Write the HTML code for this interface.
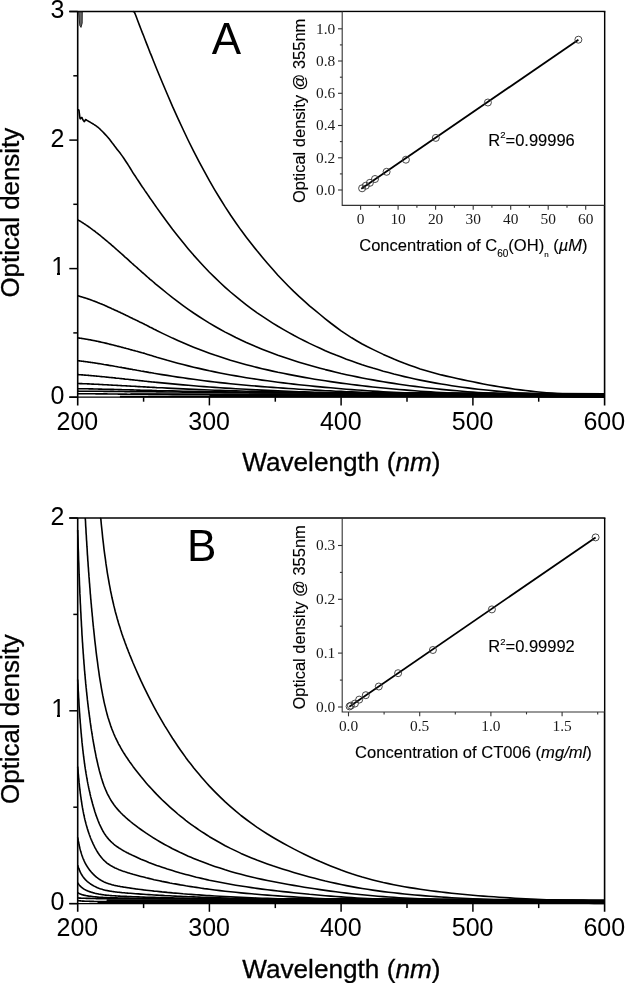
<!DOCTYPE html>
<html><head><meta charset="utf-8"><title>Figure</title>
<style>
html,body{margin:0;padding:0;background:#fff;}
svg{display:block;}
text{font-family:"Liberation Sans",sans-serif;fill:#000;}
.ti{stroke:#000;stroke-width:0.3px;}
.sm{stroke:#000;stroke-width:0.12px;}
.ser{font-family:"Liberation Serif",serif;fill:#1a1a1a;stroke:none;}
.c path{fill:none;stroke:#000;stroke-width:1.6;stroke-linejoin:round;}
.ax{stroke:#000;stroke-width:1.6;fill:none;}
.tk{stroke:#000;stroke-width:1.5;}
.iax{stroke:#333;stroke-width:1.1;fill:none;}
.pt{fill:none;stroke:#333;stroke-width:0.9;}
</style></head><body>
<svg width="625" height="983" viewBox="0 0 625 983">
<rect width="625" height="983" fill="#fff"/>

<g class="c">
<path d="M133.0,11.5 L134.3,11.9 L135.7,15.3 L137.0,18.8 L138.3,22.2 L139.6,25.6 L140.9,29.0 L142.2,32.4 L143.6,35.8 L144.9,39.2 L146.2,42.6 L147.5,45.9 L148.8,49.3 L150.1,52.6 L151.5,55.9 L152.8,59.2 L154.1,62.5 L155.4,65.7 L156.7,69.0 L162.0,81.8 L167.3,94.2 L172.5,106.4 L177.8,118.1 L183.1,129.5 L188.3,140.5 L193.6,151.1 L198.9,161.4 L204.2,171.2 L209.4,180.7 L214.7,189.8 L220.0,198.5 L225.2,206.9 L230.5,215.0 L235.8,222.7 L241.0,230.1 L246.3,237.2 L251.6,244.1 L256.8,250.6 L262.1,256.9 L267.4,263.3 L272.7,269.3 L277.9,275.2 L283.2,280.8 L288.5,286.2 L293.7,291.4 L299.0,296.4 L304.3,301.1 L309.5,305.8 L314.8,310.2 L320.1,314.5 L325.3,318.8 L330.6,323.0 L335.9,327.0 L341.1,330.9 L346.4,334.4 L351.7,337.8 L357.0,341.0 L362.2,344.0 L367.5,346.8 L372.8,349.4 L378.0,351.9 L383.3,354.4 L388.6,356.7 L393.8,359.0 L399.1,361.2 L404.4,363.3 L409.6,365.2 L414.9,367.1 L420.2,368.9 L425.5,370.5 L430.7,372.0 L436.0,373.5 L441.3,374.9 L446.5,376.1 L451.8,377.3 L457.1,378.5 L462.3,379.6 L467.6,380.7 L472.9,381.8 L478.1,382.9 L483.4,384.0 L488.7,385.0 L494.0,385.9 L499.2,386.8 L504.5,387.6 L509.8,388.4 L515.0,389.2 L520.3,389.9 L525.6,390.5 L530.8,391.1 L536.1,391.7 L541.4,392.2 L546.6,392.7 L551.9,393.1 L557.2,393.5 L562.4,393.9 L567.7,394.3 L573.0,394.6 L578.3,394.9 L583.5,395.1 L588.8,395.4 L594.1,395.6 L599.3,395.8 L604.6,396.0"/>
<path d="M77.7,110.5 L78.0,110.0 L78.4,109.8 L78.7,109.8 L79.0,110.6 L79.3,113.1 L79.7,116.1 L80.0,118.3 L80.3,118.8 L80.7,118.5 L81.0,118.1 L81.3,117.7 L81.7,117.5 L82.0,117.7 L82.3,118.3 L82.6,119.1 L83.0,119.8 L83.3,120.4 L83.6,120.9 L84.0,121.3 L84.3,121.6 L84.6,121.5 L84.9,120.8 L85.3,120.0 L85.6,119.6 L85.9,119.7 L86.3,119.8 L86.6,120.1 L86.9,120.3 L87.3,120.6 L87.6,120.7 L87.9,120.9 L88.2,121.1 L88.6,121.3 L88.9,121.5 L89.2,121.6 L89.6,121.8 L89.9,122.0 L90.2,122.2 L90.5,122.4 L90.9,122.6 L91.2,122.8 L91.5,123.0 L91.9,123.2 L92.2,123.4 L92.5,123.6 L92.8,123.8 L93.2,124.0 L93.5,124.2 L93.8,124.4 L94.2,124.6 L94.5,124.8 L94.8,125.1 L95.2,125.3 L95.5,125.5 L95.8,125.7 L96.1,125.9 L96.5,126.2 L96.8,126.4 L97.1,126.7 L97.5,126.9 L98.8,128.0 L100.1,129.2 L101.4,130.5 L102.7,131.8 L104.0,133.1 L105.4,134.6 L106.7,136.0 L108.0,137.5 L109.3,139.1 L110.6,140.8 L111.9,142.5 L113.3,144.2 L114.6,146.0 L115.9,147.7 L117.2,149.4 L118.5,151.1 L119.9,152.8 L121.2,154.6 L122.5,156.4 L123.8,158.3 L125.1,160.2 L126.4,162.2 L127.8,164.3 L129.1,166.4 L130.4,168.5 L131.7,170.7 L133.0,172.8 L134.3,174.8 L135.7,176.8 L137.0,178.9 L138.3,180.8 L139.6,182.8 L140.9,184.8 L142.2,186.7 L143.6,188.6 L144.9,190.6 L146.2,192.5 L147.5,194.4 L148.8,196.3 L150.1,198.2 L151.5,200.1 L152.8,202.0 L154.1,203.9 L155.4,205.8 L156.7,207.6 L162.0,215.0 L167.3,222.2 L172.5,229.2 L177.8,236.0 L183.1,242.6 L188.3,248.9 L193.6,255.1 L198.9,261.0 L204.2,266.7 L209.4,272.2 L214.7,277.4 L220.0,282.5 L225.2,287.3 L230.5,292.0 L235.8,296.4 L241.0,300.7 L246.3,304.8 L251.6,308.8 L256.8,312.6 L262.1,316.2 L267.4,319.7 L272.7,323.1 L277.9,326.3 L283.2,329.4 L288.5,332.4 L293.7,335.3 L299.0,338.1 L304.3,340.8 L309.5,343.4 L314.8,345.9 L320.1,348.3 L325.3,350.7 L330.6,352.9 L335.9,355.1 L341.1,357.1 L346.4,359.2 L351.7,361.1 L357.0,362.9 L362.2,364.7 L367.5,366.4 L372.8,368.1 L378.0,369.6 L383.3,371.2 L388.6,372.6 L393.8,374.0 L399.1,375.3 L404.4,376.6 L409.6,377.8 L414.9,379.0 L420.2,380.1 L425.5,381.1 L430.7,382.1 L436.0,383.1 L441.3,384.0 L446.5,384.8 L451.8,385.7 L457.1,386.5 L462.3,387.2 L467.6,387.9 L472.9,388.6 L478.1,389.2 L483.4,389.8 L488.7,390.3 L494.0,390.9 L499.2,391.4 L504.5,391.8 L509.8,392.3 L515.0,392.7 L520.3,393.1 L525.6,393.4 L530.8,393.8 L536.1,394.1 L541.4,394.4 L546.6,394.6 L551.9,394.9 L557.2,395.1 L562.4,395.3 L567.7,395.5 L573.0,395.7 L578.3,395.9 L583.5,396.0 L588.8,396.2 L594.1,396.3 L599.3,396.4 L604.6,396.5"/>
<path d="M77.7,219.8 L78.0,220.0 L78.4,220.2 L78.7,220.4 L79.0,220.6 L79.3,220.8 L79.7,220.9 L80.0,221.1 L80.3,221.3 L80.7,221.5 L81.0,221.7 L81.3,221.9 L81.7,222.1 L82.0,222.3 L82.3,222.5 L82.6,222.8 L83.0,223.0 L83.3,223.2 L83.6,223.4 L84.0,223.6 L84.3,223.8 L84.6,224.0 L84.9,224.2 L85.3,224.5 L85.6,224.7 L85.9,224.9 L86.3,225.1 L86.6,225.3 L86.9,225.6 L87.3,225.8 L87.6,226.0 L87.9,226.2 L88.2,226.5 L88.6,226.7 L88.9,226.9 L89.2,227.2 L89.6,227.4 L89.9,227.6 L90.2,227.9 L90.5,228.1 L90.9,228.4 L91.2,228.6 L91.5,228.8 L91.9,229.1 L92.2,229.3 L92.5,229.6 L92.8,229.8 L93.2,230.1 L93.5,230.3 L93.8,230.5 L94.2,230.8 L94.5,231.0 L94.8,231.3 L95.2,231.5 L95.5,231.8 L95.8,232.1 L96.1,232.3 L96.5,232.6 L96.8,232.8 L97.1,233.1 L97.5,233.3 L98.8,234.4 L100.1,235.4 L101.4,236.5 L102.7,237.6 L104.0,238.7 L105.4,239.8 L106.7,240.9 L108.0,242.0 L109.3,243.1 L110.6,244.2 L111.9,245.4 L113.3,246.5 L114.6,247.7 L115.9,248.8 L117.2,250.0 L118.5,251.2 L119.9,252.3 L121.2,253.5 L122.5,254.7 L123.8,255.9 L125.1,257.1 L126.4,258.2 L127.8,259.4 L129.1,260.6 L130.4,261.8 L131.7,263.0 L133.0,264.1 L134.3,265.3 L135.7,266.5 L137.0,267.7 L138.3,268.9 L139.6,270.0 L140.9,271.2 L142.2,272.4 L143.6,273.5 L144.9,274.7 L146.2,275.8 L147.5,277.0 L148.8,278.1 L150.1,279.3 L151.5,280.4 L152.8,281.5 L154.1,282.6 L155.4,283.8 L156.7,284.9 L162.0,289.2 L167.3,293.5 L172.5,297.7 L177.8,301.7 L183.1,305.6 L188.3,309.3 L193.6,313.0 L198.9,316.5 L204.2,319.9 L209.4,323.1 L214.7,326.2 L220.0,329.2 L225.2,332.1 L230.5,334.8 L235.8,337.5 L241.0,340.0 L246.3,342.5 L251.6,344.8 L256.8,347.0 L262.1,349.2 L267.4,351.3 L272.7,353.3 L277.9,355.2 L283.2,357.0 L288.5,358.8 L293.7,360.5 L299.0,362.2 L304.3,363.8 L309.5,365.3 L314.8,366.8 L320.1,368.2 L325.3,369.6 L330.6,370.9 L335.9,372.2 L341.1,373.5 L346.4,374.7 L351.7,375.8 L357.0,376.9 L362.2,378.0 L367.5,379.0 L372.8,379.9 L378.0,380.9 L383.3,381.8 L388.6,382.6 L393.8,383.4 L399.1,384.2 L404.4,385.0 L409.6,385.7 L414.9,386.4 L420.2,387.0 L425.5,387.7 L430.7,388.3 L436.0,388.8 L441.3,389.4 L446.5,389.9 L451.8,390.4 L457.1,390.8 L462.3,391.3 L467.6,391.7 L472.9,392.1 L478.1,392.5 L483.4,392.8 L488.7,393.1 L494.0,393.4 L499.2,393.7 L504.5,394.0 L509.8,394.3 L515.0,394.5 L520.3,394.8 L525.6,395.0 L530.8,395.2 L536.1,395.3 L541.4,395.5 L546.6,395.7 L551.9,395.8 L557.2,396.0 L562.4,396.1 L567.7,396.2 L573.0,396.3 L578.3,396.4 L583.5,396.5 L588.8,396.6 L594.1,396.7 L599.3,396.7 L604.6,396.8"/>
<path d="M77.7,295.8 L78.0,295.8 L78.4,295.9 L78.7,296.0 L79.0,296.1 L79.3,296.2 L79.7,296.3 L80.0,296.4 L80.3,296.5 L80.7,296.6 L81.0,296.7 L81.3,296.8 L81.7,296.9 L82.0,297.0 L82.3,297.1 L82.6,297.2 L83.0,297.3 L83.3,297.4 L83.6,297.5 L84.0,297.6 L84.3,297.7 L84.6,297.8 L84.9,297.9 L85.3,298.0 L85.6,298.1 L85.9,298.2 L86.3,298.3 L86.6,298.4 L86.9,298.5 L87.3,298.6 L87.6,298.7 L87.9,298.9 L88.2,299.0 L88.6,299.1 L88.9,299.2 L89.2,299.3 L89.6,299.4 L89.9,299.5 L90.2,299.7 L90.5,299.8 L90.9,299.9 L91.2,300.0 L91.5,300.1 L91.9,300.3 L92.2,300.4 L92.5,300.5 L92.8,300.6 L93.2,300.8 L93.5,300.9 L93.8,301.0 L94.2,301.1 L94.5,301.3 L94.8,301.4 L95.2,301.5 L95.5,301.6 L95.8,301.8 L96.1,301.9 L96.5,302.0 L96.8,302.2 L97.1,302.3 L97.5,302.4 L98.8,302.9 L100.1,303.5 L101.4,304.0 L102.7,304.6 L104.0,305.1 L105.4,305.7 L106.7,306.3 L108.0,306.9 L109.3,307.5 L110.6,308.1 L111.9,308.7 L113.3,309.3 L114.6,309.9 L115.9,310.5 L117.2,311.1 L118.5,311.7 L119.9,312.3 L121.2,313.0 L122.5,313.6 L123.8,314.2 L125.1,314.8 L126.4,315.5 L127.8,316.1 L129.1,316.8 L130.4,317.4 L131.7,318.0 L133.0,318.7 L134.3,319.3 L135.7,319.9 L137.0,320.6 L138.3,321.2 L139.6,321.9 L140.9,322.5 L142.2,323.1 L143.6,323.8 L144.9,324.5 L146.2,325.1 L147.5,325.8 L148.8,326.5 L150.1,327.2 L151.5,327.8 L152.8,328.5 L154.1,329.2 L155.4,329.8 L156.7,330.5 L162.0,333.1 L167.3,335.6 L172.5,338.1 L177.8,340.5 L183.1,342.8 L188.3,345.0 L193.6,347.2 L198.9,349.3 L204.2,351.3 L209.4,353.2 L214.7,355.1 L220.0,356.8 L225.2,358.5 L230.5,360.2 L235.8,361.7 L241.0,363.2 L246.3,364.7 L251.6,366.1 L256.8,367.4 L262.1,368.7 L267.4,369.9 L272.7,371.1 L277.9,372.3 L283.2,373.3 L288.5,374.4 L293.7,375.4 L299.0,376.4 L304.3,377.4 L309.5,378.3 L314.8,379.2 L320.1,380.0 L325.3,380.8 L330.6,381.6 L335.9,382.4 L341.1,383.1 L346.4,383.8 L351.7,384.5 L357.0,385.1 L362.2,385.8 L367.5,386.4 L372.8,387.0 L378.0,387.5 L383.3,388.0 L388.6,388.5 L393.8,389.0 L399.1,389.5 L404.4,389.9 L409.6,390.4 L414.9,390.8 L420.2,391.2 L425.5,391.5 L430.7,391.9 L436.0,392.2 L441.3,392.5 L446.5,392.9 L451.8,393.1 L457.1,393.4 L462.3,393.7 L467.6,393.9 L472.9,394.2 L478.1,394.4 L483.4,394.6 L488.7,394.8 L494.0,395.0 L499.2,395.1 L504.5,395.3 L509.8,395.5 L515.0,395.6 L520.3,395.7 L525.6,395.9 L530.8,396.0 L536.1,396.1 L541.4,396.2 L546.6,396.3 L551.9,396.4 L557.2,396.5 L562.4,396.5 L567.7,396.6 L573.0,396.7 L578.3,396.7 L583.5,396.8 L588.8,396.8 L594.1,396.9 L599.3,396.9 L604.6,397.0"/>
<path d="M77.7,337.9 L78.0,337.9 L78.4,338.0 L78.7,338.0 L79.0,338.1 L79.3,338.1 L79.7,338.1 L80.0,338.2 L80.3,338.2 L80.7,338.3 L81.0,338.3 L81.3,338.4 L81.7,338.4 L82.0,338.5 L82.3,338.5 L82.6,338.6 L83.0,338.6 L83.3,338.7 L83.6,338.7 L84.0,338.8 L84.3,338.8 L84.6,338.9 L84.9,339.0 L85.3,339.0 L85.6,339.1 L85.9,339.1 L86.3,339.2 L86.6,339.2 L86.9,339.3 L87.3,339.3 L87.6,339.4 L87.9,339.5 L88.2,339.5 L88.6,339.6 L88.9,339.6 L89.2,339.7 L89.6,339.8 L89.9,339.8 L90.2,339.9 L90.5,339.9 L90.9,340.0 L91.2,340.1 L91.5,340.1 L91.9,340.2 L92.2,340.3 L92.5,340.3 L92.8,340.4 L93.2,340.5 L93.5,340.5 L93.8,340.6 L94.2,340.6 L94.5,340.7 L94.8,340.8 L95.2,340.8 L95.5,340.9 L95.8,341.0 L96.1,341.1 L96.5,341.1 L96.8,341.2 L97.1,341.3 L97.5,341.3 L98.8,341.6 L100.1,341.9 L101.4,342.2 L102.7,342.5 L104.0,342.8 L105.4,343.1 L106.7,343.4 L108.0,343.7 L109.3,344.1 L110.6,344.4 L111.9,344.7 L113.3,345.0 L114.6,345.4 L115.9,345.7 L117.2,346.1 L118.5,346.4 L119.9,346.7 L121.2,347.1 L122.5,347.4 L123.8,347.8 L125.1,348.1 L126.4,348.5 L127.8,348.8 L129.1,349.2 L130.4,349.6 L131.7,349.9 L133.0,350.3 L134.3,350.6 L135.7,351.0 L137.0,351.3 L138.3,351.7 L139.6,352.1 L140.9,352.4 L142.2,352.8 L143.6,353.1 L144.9,353.6 L146.2,354.0 L147.5,354.4 L148.8,354.8 L150.1,355.2 L151.5,355.6 L152.8,356.0 L154.1,356.4 L155.4,356.8 L156.7,357.2 L162.0,358.7 L167.3,360.3 L172.5,361.7 L177.8,363.2 L183.1,364.6 L188.3,365.9 L193.6,367.2 L198.9,368.4 L204.2,369.6 L209.4,370.8 L214.7,371.9 L220.0,373.0 L225.2,374.0 L230.5,375.0 L235.8,375.9 L241.0,376.8 L246.3,377.7 L251.6,378.5 L256.8,379.3 L262.1,380.1 L267.4,380.8 L272.7,381.5 L277.9,382.2 L283.2,382.9 L288.5,383.5 L293.7,384.1 L299.0,384.7 L304.3,385.3 L309.5,385.8 L314.8,386.4 L320.1,386.9 L325.3,387.4 L330.6,387.8 L335.9,388.3 L341.1,388.7 L346.4,389.2 L351.7,389.6 L357.0,390.0 L362.2,390.3 L367.5,390.7 L372.8,391.1 L378.0,391.4 L383.3,391.7 L388.6,392.0 L393.8,392.3 L399.1,392.6 L404.4,392.8 L409.6,393.1 L414.9,393.3 L420.2,393.6 L425.5,393.8 L430.7,394.0 L436.0,394.2 L441.3,394.4 L446.5,394.6 L451.8,394.8 L457.1,394.9 L462.3,395.1 L467.6,395.2 L472.9,395.4 L478.1,395.5 L483.4,395.6 L488.7,395.8 L494.0,395.9 L499.2,396.0 L504.5,396.1 L509.8,396.2 L515.0,396.2 L520.3,396.3 L525.6,396.4 L530.8,396.5 L536.1,396.5 L541.4,396.6 L546.6,396.7 L551.9,396.7 L557.2,396.8 L562.4,396.8 L567.7,396.8 L573.0,396.9 L578.3,396.9 L583.5,397.0 L588.8,397.0 L594.1,397.0 L599.3,397.0 L604.6,397.1"/>
<path d="M77.7,360.7 L78.0,360.7 L78.4,360.8 L78.7,360.8 L79.0,360.8 L79.3,360.9 L79.7,360.9 L80.0,361.0 L80.3,361.0 L80.7,361.0 L81.0,361.1 L81.3,361.1 L81.7,361.2 L82.0,361.2 L82.3,361.2 L82.6,361.3 L83.0,361.3 L83.3,361.4 L83.6,361.4 L84.0,361.5 L84.3,361.5 L84.6,361.5 L84.9,361.6 L85.3,361.6 L85.6,361.7 L85.9,361.7 L86.3,361.8 L86.6,361.8 L86.9,361.8 L87.3,361.9 L87.6,361.9 L87.9,362.0 L88.2,362.0 L88.6,362.1 L88.9,362.1 L89.2,362.2 L89.6,362.2 L89.9,362.3 L90.2,362.3 L90.5,362.4 L90.9,362.4 L91.2,362.5 L91.5,362.5 L91.9,362.5 L92.2,362.6 L92.5,362.6 L92.8,362.7 L93.2,362.7 L93.5,362.8 L93.8,362.8 L94.2,362.9 L94.5,362.9 L94.8,363.0 L95.2,363.0 L95.5,363.1 L95.8,363.1 L96.1,363.2 L96.5,363.2 L96.8,363.3 L97.1,363.3 L97.5,363.4 L98.8,363.6 L100.1,363.8 L101.4,364.0 L102.7,364.2 L104.0,364.5 L105.4,364.7 L106.7,364.9 L108.0,365.1 L109.3,365.4 L110.6,365.6 L111.9,365.8 L113.3,366.0 L114.6,366.3 L115.9,366.5 L117.2,366.7 L118.5,367.0 L119.9,367.2 L121.2,367.4 L122.5,367.7 L123.8,367.9 L125.1,368.1 L126.4,368.4 L127.8,368.6 L129.1,368.9 L130.4,369.1 L131.7,369.3 L133.0,369.6 L134.3,369.8 L135.7,370.0 L137.0,370.3 L138.3,370.5 L139.6,370.7 L140.9,371.0 L142.2,371.2 L143.6,371.4 L144.9,371.7 L146.2,371.9 L147.5,372.1 L148.8,372.4 L150.1,372.6 L151.5,372.8 L152.8,373.0 L154.1,373.3 L155.4,373.5 L156.7,373.7 L162.0,374.6 L167.3,375.4 L172.5,376.3 L177.8,377.1 L183.1,377.8 L188.3,378.6 L193.6,379.3 L198.9,380.0 L204.2,380.7 L209.4,381.4 L214.7,382.0 L220.0,382.6 L225.2,383.1 L230.5,383.7 L235.8,384.2 L241.0,384.7 L246.3,385.2 L251.6,385.7 L256.8,386.1 L262.1,386.6 L267.4,387.0 L272.7,387.4 L277.9,387.8 L283.2,388.1 L288.5,388.5 L293.7,388.8 L299.0,389.2 L304.3,389.5 L309.5,389.8 L314.8,390.1 L320.1,390.4 L325.3,390.7 L330.6,390.9 L335.9,391.2 L341.1,391.4 L346.4,391.7 L351.7,391.9 L357.0,392.1 L362.2,392.3 L367.5,392.5 L372.8,392.7 L378.0,392.9 L383.3,393.1 L388.6,393.3 L393.8,393.4 L399.1,393.6 L404.4,393.7 L409.6,393.9 L414.9,394.0 L420.2,394.2 L425.5,394.3 L430.7,394.4 L436.0,394.5 L441.3,394.6 L446.5,394.8 L451.8,394.9 L457.1,395.0 L462.3,395.0 L467.6,395.1 L472.9,395.2 L478.1,395.3 L483.4,395.4 L488.7,395.5 L494.0,395.5 L499.2,395.6 L504.5,395.6 L509.8,395.7 L515.0,395.8 L520.3,395.8 L525.6,395.9 L530.8,395.9 L536.1,395.9 L541.4,396.0 L546.6,396.0 L551.9,396.1 L557.2,396.1 L562.4,396.1 L567.7,396.2 L573.0,396.2 L578.3,396.2 L583.5,396.2 L588.8,396.3 L594.1,396.3 L599.3,396.3 L604.6,396.3"/>
<path d="M77.7,374.6 L78.0,374.6 L78.4,374.6 L78.7,374.6 L79.0,374.7 L79.3,374.7 L79.7,374.7 L80.0,374.7 L80.3,374.8 L80.7,374.8 L81.0,374.8 L81.3,374.8 L81.7,374.9 L82.0,374.9 L82.3,374.9 L82.6,374.9 L83.0,375.0 L83.3,375.0 L83.6,375.0 L84.0,375.0 L84.3,375.1 L84.6,375.1 L84.9,375.1 L85.3,375.1 L85.6,375.2 L85.9,375.2 L86.3,375.2 L86.6,375.2 L86.9,375.3 L87.3,375.3 L87.6,375.3 L87.9,375.3 L88.2,375.4 L88.6,375.4 L88.9,375.4 L89.2,375.5 L89.6,375.5 L89.9,375.5 L90.2,375.5 L90.5,375.6 L90.9,375.6 L91.2,375.6 L91.5,375.7 L91.9,375.7 L92.2,375.7 L92.5,375.7 L92.8,375.8 L93.2,375.8 L93.5,375.8 L93.8,375.9 L94.2,375.9 L94.5,375.9 L94.8,376.0 L95.2,376.0 L95.5,376.0 L95.8,376.0 L96.1,376.1 L96.5,376.1 L96.8,376.1 L97.1,376.2 L97.5,376.2 L98.8,376.3 L100.1,376.5 L101.4,376.6 L102.7,376.7 L104.0,376.8 L105.4,377.0 L106.7,377.1 L108.0,377.2 L109.3,377.4 L110.6,377.5 L111.9,377.6 L113.3,377.8 L114.6,377.9 L115.9,378.1 L117.2,378.2 L118.5,378.3 L119.9,378.5 L121.2,378.6 L122.5,378.8 L123.8,378.9 L125.1,379.1 L126.4,379.2 L127.8,379.3 L129.1,379.5 L130.4,379.6 L131.7,379.8 L133.0,379.9 L134.3,380.0 L135.7,380.2 L137.0,380.3 L138.3,380.5 L139.6,380.6 L140.9,380.8 L142.2,380.9 L143.6,381.0 L144.9,381.2 L146.2,381.3 L147.5,381.5 L148.8,381.6 L150.1,381.7 L151.5,381.9 L152.8,382.0 L154.1,382.1 L155.4,382.3 L156.7,382.4 L162.0,382.9 L167.3,383.4 L172.5,383.9 L177.8,384.4 L183.1,384.9 L188.3,385.3 L193.6,385.8 L198.9,386.2 L204.2,386.6 L209.4,387.0 L214.7,387.4 L220.0,387.7 L225.2,388.1 L230.5,388.4 L235.8,388.7 L241.0,389.0 L246.3,389.3 L251.6,389.6 L256.8,389.9 L262.1,390.1 L267.4,390.4 L272.7,390.6 L277.9,390.9 L283.2,391.1 L288.5,391.3 L293.7,391.5 L299.0,391.7 L304.3,391.9 L309.5,392.1 L314.8,392.3 L320.1,392.4 L325.3,392.6 L330.6,392.8 L335.9,392.9 L341.1,393.1 L346.4,393.2 L351.7,393.3 L357.0,393.5 L362.2,393.6 L367.5,393.7 L372.8,393.8 L378.0,393.9 L383.3,394.1 L388.6,394.2 L393.8,394.3 L399.1,394.4 L404.4,394.4 L409.6,394.5 L414.9,394.6 L420.2,394.7 L425.5,394.8 L430.7,394.9 L436.0,394.9 L441.3,395.0 L446.5,395.1 L451.8,395.2 L457.1,395.2 L462.3,395.3 L467.6,395.3 L472.9,395.4 L478.1,395.4 L483.4,395.5 L488.7,395.5 L494.0,395.6 L499.2,395.6 L504.5,395.7 L509.8,395.7 L515.0,395.7 L520.3,395.8 L525.6,395.8 L530.8,395.8 L536.1,395.9 L541.4,395.9 L546.6,395.9 L551.9,396.0 L557.2,396.0 L562.4,396.0 L567.7,396.0 L573.0,396.0 L578.3,396.1 L583.5,396.1 L588.8,396.1 L594.1,396.1 L599.3,396.1 L604.6,396.1"/>
<path d="M77.7,383.5 L78.0,383.5 L78.4,383.5 L78.7,383.5 L79.0,383.5 L79.3,383.5 L79.7,383.6 L80.0,383.6 L80.3,383.6 L80.7,383.6 L81.0,383.6 L81.3,383.6 L81.7,383.6 L82.0,383.6 L82.3,383.7 L82.6,383.7 L83.0,383.7 L83.3,383.7 L83.6,383.7 L84.0,383.7 L84.3,383.7 L84.6,383.8 L84.9,383.8 L85.3,383.8 L85.6,383.8 L85.9,383.8 L86.3,383.8 L86.6,383.8 L86.9,383.8 L87.3,383.9 L87.6,383.9 L87.9,383.9 L88.2,383.9 L88.6,383.9 L88.9,383.9 L89.2,383.9 L89.6,384.0 L89.9,384.0 L90.2,384.0 L90.5,384.0 L90.9,384.0 L91.2,384.0 L91.5,384.1 L91.9,384.1 L92.2,384.1 L92.5,384.1 L92.8,384.1 L93.2,384.1 L93.5,384.1 L93.8,384.2 L94.2,384.2 L94.5,384.2 L94.8,384.2 L95.2,384.2 L95.5,384.2 L95.8,384.3 L96.1,384.3 L96.5,384.3 L96.8,384.3 L97.1,384.3 L97.5,384.3 L98.8,384.4 L100.1,384.5 L101.4,384.5 L102.7,384.6 L104.0,384.7 L105.4,384.7 L106.7,384.8 L108.0,384.9 L109.3,385.0 L110.6,385.0 L111.9,385.1 L113.3,385.2 L114.6,385.2 L115.9,385.3 L117.2,385.4 L118.5,385.5 L119.9,385.5 L121.2,385.6 L122.5,385.7 L123.8,385.8 L125.1,385.8 L126.4,385.9 L127.8,386.0 L129.1,386.0 L130.4,386.1 L131.7,386.2 L133.0,386.3 L134.3,386.3 L135.7,386.4 L137.0,386.5 L138.3,386.6 L139.6,386.6 L140.9,386.7 L142.2,386.8 L143.6,386.9 L144.9,386.9 L146.2,387.0 L147.5,387.1 L148.8,387.1 L150.1,387.2 L151.5,387.3 L152.8,387.4 L154.1,387.4 L155.4,387.5 L156.7,387.6 L162.0,387.8 L167.3,388.1 L172.5,388.4 L177.8,388.6 L183.1,388.9 L188.3,389.1 L193.6,389.3 L198.9,389.6 L204.2,389.8 L209.4,390.0 L214.7,390.2 L220.0,390.4 L225.2,390.5 L230.5,390.7 L235.8,390.9 L241.0,391.0 L246.3,391.2 L251.6,391.3 L256.8,391.5 L262.1,391.6 L267.4,391.7 L272.7,391.9 L277.9,392.0 L283.2,392.1 L288.5,392.2 L293.7,392.3 L299.0,392.4 L304.3,392.5 L309.5,392.6 L314.8,392.7 L320.1,392.8 L325.3,392.9 L330.6,393.0 L335.9,393.1 L341.1,393.1 L346.4,393.2 L351.7,393.3 L357.0,393.4 L362.2,393.4 L367.5,393.5 L372.8,393.5 L378.0,393.6 L383.3,393.7 L388.6,393.7 L393.8,393.8 L399.1,393.8 L404.4,393.9 L409.6,393.9 L414.9,394.0 L420.2,394.0 L425.5,394.1 L430.7,394.1 L436.0,394.2 L441.3,394.2 L446.5,394.3 L451.8,394.3 L457.1,394.4 L462.3,394.4 L467.6,394.5 L472.9,394.5 L478.1,394.5 L483.4,394.6 L488.7,394.6 L494.0,394.6 L499.2,394.7 L504.5,394.7 L509.8,394.7 L515.0,394.8 L520.3,394.8 L525.6,394.8 L530.8,394.9 L536.1,394.9 L541.4,394.9 L546.6,394.9 L551.9,395.0 L557.2,395.0 L562.4,395.0 L567.7,395.0 L573.0,395.0 L578.3,395.1 L583.5,395.1 L588.8,395.1 L594.1,395.1 L599.3,395.1 L604.6,395.2"/>
<path d="M77.7,388.6 L78.0,388.7 L78.4,388.7 L78.7,388.7 L79.0,388.7 L79.3,388.7 L79.7,388.7 L80.0,388.7 L80.3,388.7 L80.7,388.7 L81.0,388.7 L81.3,388.7 L81.7,388.7 L82.0,388.7 L82.3,388.7 L82.6,388.7 L83.0,388.7 L83.3,388.7 L83.6,388.8 L84.0,388.8 L84.3,388.8 L84.6,388.8 L84.9,388.8 L85.3,388.8 L85.6,388.8 L85.9,388.8 L86.3,388.8 L86.6,388.8 L86.9,388.8 L87.3,388.8 L87.6,388.8 L87.9,388.8 L88.2,388.8 L88.6,388.8 L88.9,388.9 L89.2,388.9 L89.6,388.9 L89.9,388.9 L90.2,388.9 L90.5,388.9 L90.9,388.9 L91.2,388.9 L91.5,388.9 L91.9,388.9 L92.2,388.9 L92.5,388.9 L92.8,388.9 L93.2,388.9 L93.5,389.0 L93.8,389.0 L94.2,389.0 L94.5,389.0 L94.8,389.0 L95.2,389.0 L95.5,389.0 L95.8,389.0 L96.1,389.0 L96.5,389.0 L96.8,389.0 L97.1,389.0 L97.5,389.0 L98.8,389.1 L100.1,389.1 L101.4,389.1 L102.7,389.2 L104.0,389.2 L105.4,389.2 L106.7,389.3 L108.0,389.3 L109.3,389.3 L110.6,389.4 L111.9,389.4 L113.3,389.4 L114.6,389.5 L115.9,389.5 L117.2,389.5 L118.5,389.6 L119.9,389.6 L121.2,389.6 L122.5,389.7 L123.8,389.7 L125.1,389.7 L126.4,389.8 L127.8,389.8 L129.1,389.8 L130.4,389.9 L131.7,389.9 L133.0,389.9 L134.3,390.0 L135.7,390.0 L137.0,390.1 L138.3,390.1 L139.6,390.1 L140.9,390.2 L142.2,390.2 L143.6,390.2 L144.9,390.3 L146.2,390.3 L147.5,390.3 L148.8,390.4 L150.1,390.4 L151.5,390.4 L152.8,390.5 L154.1,390.5 L155.4,390.5 L156.7,390.6 L162.0,390.7 L167.3,390.8 L172.5,390.9 L177.8,391.1 L183.1,391.2 L188.3,391.3 L193.6,391.4 L198.9,391.5 L204.2,391.6 L209.4,391.7 L214.7,391.8 L220.0,391.9 L225.2,391.9 L230.5,392.0 L235.8,392.1 L241.0,392.2 L246.3,392.2 L251.6,392.3 L256.8,392.4 L262.1,392.4 L267.4,392.5 L272.7,392.6 L277.9,392.6 L283.2,392.7 L288.5,392.7 L293.7,392.8 L299.0,392.8 L304.3,392.9 L309.5,392.9 L314.8,393.0 L320.1,393.0 L325.3,393.0 L330.6,393.1 L335.9,393.1 L341.1,393.2 L346.4,393.2 L351.7,393.2 L357.0,393.3 L362.2,393.3 L367.5,393.3 L372.8,393.4 L378.0,393.4 L383.3,393.4 L388.6,393.4 L393.8,393.5 L399.1,393.5 L404.4,393.5 L409.6,393.5 L414.9,393.6 L420.2,393.6 L425.5,393.6 L430.7,393.7 L436.0,393.7 L441.3,393.8 L446.5,393.8 L451.8,393.8 L457.1,393.9 L462.3,393.9 L467.6,393.9 L472.9,394.0 L478.1,394.0 L483.4,394.0 L488.7,394.0 L494.0,394.1 L499.2,394.1 L504.5,394.1 L509.8,394.2 L515.0,394.2 L520.3,394.2 L525.6,394.2 L530.8,394.3 L536.1,394.3 L541.4,394.3 L546.6,394.3 L551.9,394.4 L557.2,394.4 L562.4,394.4 L567.7,394.4 L573.0,394.4 L578.3,394.5 L583.5,394.5 L588.8,394.5 L594.1,394.5 L599.3,394.6 L604.6,394.6"/>
<path d="M77.7,391.1 L78.0,391.1 L78.4,391.1 L78.7,391.2 L79.0,391.2 L79.3,391.2 L79.7,391.2 L80.0,391.2 L80.3,391.2 L80.7,391.2 L81.0,391.2 L81.3,391.2 L81.7,391.2 L82.0,391.2 L82.3,391.2 L82.6,391.2 L83.0,391.2 L83.3,391.2 L83.6,391.2 L84.0,391.2 L84.3,391.2 L84.6,391.2 L84.9,391.2 L85.3,391.2 L85.6,391.2 L85.9,391.2 L86.3,391.2 L86.6,391.2 L86.9,391.2 L87.3,391.2 L87.6,391.2 L87.9,391.2 L88.2,391.2 L88.6,391.2 L88.9,391.2 L89.2,391.2 L89.6,391.2 L89.9,391.2 L90.2,391.2 L90.5,391.2 L90.9,391.2 L91.2,391.2 L91.5,391.2 L91.9,391.2 L92.2,391.2 L92.5,391.3 L92.8,391.3 L93.2,391.3 L93.5,391.3 L93.8,391.3 L94.2,391.3 L94.5,391.3 L94.8,391.3 L95.2,391.3 L95.5,391.3 L95.8,391.3 L96.1,391.3 L96.5,391.3 L96.8,391.3 L97.1,391.3 L97.5,391.3 L98.8,391.3 L100.1,391.3 L101.4,391.3 L102.7,391.3 L104.0,391.4 L105.4,391.4 L106.7,391.4 L108.0,391.4 L109.3,391.4 L110.6,391.4 L111.9,391.4 L113.3,391.4 L114.6,391.5 L115.9,391.5 L117.2,391.5 L118.5,391.5 L119.9,391.5 L121.2,391.5 L122.5,391.5 L123.8,391.5 L125.1,391.6 L126.4,391.6 L127.8,391.6 L129.1,391.6 L130.4,391.6 L131.7,391.6 L133.0,391.6 L134.3,391.6 L135.7,391.7 L137.0,391.7 L138.3,391.7 L139.6,391.7 L140.9,391.7 L142.2,391.7 L143.6,391.7 L144.9,391.7 L146.2,391.8 L147.5,391.8 L148.8,391.8 L150.1,391.8 L151.5,391.8 L152.8,391.8 L154.1,391.8 L155.4,391.8 L156.7,391.9 L162.0,391.9 L167.3,392.0 L172.5,392.0 L177.8,392.0 L183.1,392.1 L188.3,392.1 L193.6,392.2 L198.9,392.2 L204.2,392.2 L209.4,392.3 L214.7,392.3 L220.0,392.3 L225.2,392.4 L230.5,392.4 L235.8,392.4 L241.0,392.5 L246.3,392.5 L251.6,392.5 L256.8,392.5 L262.1,392.6 L267.4,392.6 L272.7,392.6 L277.9,392.6 L283.2,392.6 L288.5,392.7 L293.7,392.7 L299.0,392.7 L304.3,392.7 L309.5,392.7 L314.8,392.8 L320.1,392.8 L325.3,392.8 L330.6,392.8 L335.9,392.8 L341.1,392.8 L346.4,392.8 L351.7,392.9 L357.0,392.9 L362.2,392.9 L367.5,392.9 L372.8,392.9 L378.0,392.9 L383.3,392.9 L388.6,392.9 L393.8,392.9 L399.1,392.9 L404.4,393.0 L409.6,393.0 L414.9,393.0 L420.2,393.0 L425.5,393.1 L430.7,393.1 L436.0,393.1 L441.3,393.2 L446.5,393.2 L451.8,393.2 L457.1,393.2 L462.3,393.3 L467.6,393.3 L472.9,393.3 L478.1,393.4 L483.4,393.4 L488.7,393.4 L494.0,393.4 L499.2,393.5 L504.5,393.5 L509.8,393.5 L515.0,393.6 L520.3,393.6 L525.6,393.6 L530.8,393.6 L536.1,393.7 L541.4,393.7 L546.6,393.7 L551.9,393.7 L557.2,393.8 L562.4,393.8 L567.7,393.8 L573.0,393.8 L578.3,393.9 L583.5,393.9 L588.8,393.9 L594.1,393.9 L599.3,394.0 L604.6,394.0"/>
<path d="M77.7,393.7 L78.0,393.7 L78.4,393.7 L78.7,393.7 L79.0,393.7 L79.3,393.7 L79.7,393.7 L80.0,393.7 L80.3,393.7 L80.7,393.7 L81.0,393.7 L81.3,393.7 L81.7,393.7 L82.0,393.7 L82.3,393.7 L82.6,393.7 L83.0,393.8 L83.3,393.8 L83.6,393.8 L84.0,393.8 L84.3,393.8 L84.6,393.8 L84.9,393.8 L85.3,393.8 L85.6,393.8 L85.9,393.8 L86.3,393.8 L86.6,393.8 L86.9,393.8 L87.3,393.8 L87.6,393.8 L87.9,393.8 L88.2,393.8 L88.6,393.8 L88.9,393.8 L89.2,393.8 L89.6,393.8 L89.9,393.8 L90.2,393.8 L90.5,393.8 L90.9,393.8 L91.2,393.8 L91.5,393.8 L91.9,393.8 L92.2,393.8 L92.5,393.8 L92.8,393.8 L93.2,393.8 L93.5,393.8 L93.8,393.8 L94.2,393.8 L94.5,393.8 L94.8,393.8 L95.2,393.8 L95.5,393.8 L95.8,393.9 L96.1,393.9 L96.5,393.9 L96.8,393.9 L97.1,393.9 L97.5,393.9 L98.8,393.9 L100.1,393.9 L101.4,393.9 L102.7,393.9 L104.0,393.9 L105.4,393.9 L106.7,393.9 L108.0,394.0 L109.3,394.0 L110.6,394.0 L111.9,394.0 L113.3,394.0 L114.6,394.0 L115.9,394.0 L117.2,394.0 L118.5,394.1 L119.9,394.1 L121.2,394.1 L122.5,394.1 L123.8,394.1 L125.1,394.1 L126.4,394.1 L127.8,394.2 L129.1,394.2 L130.4,394.2 L131.7,394.2 L133.0,394.2 L134.3,394.2 L135.7,394.2 L137.0,394.2 L138.3,394.3 L139.6,394.3 L140.9,394.3 L142.2,394.3 L143.6,394.3 L144.9,394.3 L146.2,394.3 L147.5,394.3 L148.8,394.4 L150.1,394.4 L151.5,394.4 L152.8,394.4 L154.1,394.4 L155.4,394.4 L156.7,394.4 L162.0,394.5 L167.3,394.5 L172.5,394.6 L177.8,394.6 L183.1,394.7 L188.3,394.7 L193.6,394.7 L198.9,394.8 L204.2,394.8 L209.4,394.8 L214.7,394.9 L220.0,394.9 L225.2,394.9 L230.5,395.0 L235.8,395.0 L241.0,395.0 L246.3,395.1 L251.6,395.1 L256.8,395.1 L262.1,395.1 L267.4,395.2 L272.7,395.2 L277.9,395.2 L283.2,395.2 L288.5,395.2 L293.7,395.3 L299.0,395.3 L304.3,395.3 L309.5,395.3 L314.8,395.3 L320.1,395.3 L325.3,395.4 L330.6,395.4 L335.9,395.4 L341.1,395.4 L346.4,395.4 L351.7,395.4 L357.0,395.4 L362.2,395.4 L367.5,395.5 L372.8,395.5 L378.0,395.5 L383.3,395.5 L388.6,395.5 L393.8,395.5 L399.1,395.5 L404.4,395.5 L409.6,395.5 L414.9,395.6 L420.2,395.6 L425.5,395.6 L430.7,395.6 L436.0,395.6 L441.3,395.6 L446.5,395.6 L451.8,395.7 L457.1,395.7 L462.3,395.7 L467.6,395.7 L472.9,395.7 L478.1,395.7 L483.4,395.7 L488.7,395.8 L494.0,395.8 L499.2,395.8 L504.5,395.8 L509.8,395.8 L515.0,395.8 L520.3,395.8 L525.6,395.8 L530.8,395.8 L536.1,395.9 L541.4,395.9 L546.6,395.9 L551.9,395.9 L557.2,395.9 L562.4,395.9 L567.7,395.9 L573.0,395.9 L578.3,395.9 L583.5,396.0 L588.8,396.0 L594.1,396.0 L599.3,396.0 L604.6,396.0"/>
<path d="M130.4,394.1 L407.0,394.1 L604.6,394.8"/>
<path d="M119.9,396.6 L407.0,396.6 L604.6,396.7"/>
<path d="M209.4,395.1 L407.0,395.1 L604.6,395.6"/>
<path d="M248.9,392.7 L407.0,392.7 L604.6,393.7"/>
</g>
<path class="ax" d="M77.7,405.4 V11.5 M604.6,11.5 V405.4"/>
<path d="M69.3,11.5 H605.4" stroke="#000" stroke-width="1.7" fill="none"/>
<path d="M69.3,397.2 H604.6" stroke="#000" stroke-width="1.3" fill="none"/>
<text x="77.4" y="429.6" font-size="25" text-anchor="middle">200</text>
<line class="tk" x1="143.6" x2="143.6" y1="397.2" y2="401.7"/>
<line class="tk" x1="209.4" x2="209.4" y1="397.2" y2="405.4"/>
<text x="209.1" y="429.6" font-size="25" text-anchor="middle">300</text>
<line class="tk" x1="275.3" x2="275.3" y1="397.2" y2="401.7"/>
<line class="tk" x1="341.1" x2="341.1" y1="397.2" y2="405.4"/>
<text x="340.8" y="429.6" font-size="25" text-anchor="middle">400</text>
<line class="tk" x1="407.0" x2="407.0" y1="397.2" y2="401.7"/>
<line class="tk" x1="472.9" x2="472.9" y1="397.2" y2="405.4"/>
<text x="472.6" y="429.6" font-size="25" text-anchor="middle">500</text>
<line class="tk" x1="538.7" x2="538.7" y1="397.2" y2="401.7"/>
<text x="604.3" y="429.6" font-size="25" text-anchor="middle">600</text>
<line class="tk" x1="69.3" x2="77.7" y1="397.2" y2="397.2"/>
<text x="64.3" y="403.7" font-size="25" text-anchor="end">0</text>
<line class="tk" x1="73.3" x2="77.7" y1="332.9" y2="332.9"/>
<line class="tk" x1="69.3" x2="77.7" y1="268.6" y2="268.6"/>
<text x="65.2" y="275.1" font-size="25" text-anchor="end">1</text>
<path d="M51.5,272.68 H57 V275.63 H51.5 Z M60,272.68 H66 V275.63 H60 Z" fill="#fff"/>
<line class="tk" x1="73.3" x2="77.7" y1="204.3" y2="204.3"/>
<line class="tk" x1="69.3" x2="77.7" y1="140.1" y2="140.1"/>
<text x="64.3" y="146.6" font-size="25" text-anchor="end">2</text>
<line class="tk" x1="73.3" x2="77.7" y1="75.8" y2="75.8"/>
<line class="tk" x1="69.3" x2="77.7" y1="11.5" y2="11.5"/>
<text x="64.3" y="18.0" font-size="25" text-anchor="end">3</text>
<text class="ti" x="242.2" y="471.1" font-size="26.5" textLength="198.3" lengthAdjust="spacingAndGlyphs">Wavelength (<tspan font-style="italic">nm</tspan>)</text>
<text transform="translate(18.9,297.6) rotate(-90)" class="ti" font-size="26.5" textLength="169.8" lengthAdjust="spacingAndGlyphs">Optical density</text>
<text x="211.8" y="53.9" font-size="44">A</text>
<path d="M78.6,12 L79.8,25.5 L81,27.4 L82.2,23 L82.3,12 Z" fill="#666" stroke="#1a1a1a" stroke-width="0.9" stroke-linejoin="round"/>
<g class="c">
<path d="M100.1,518.0 L100.8,518.6 L101.4,525.3 L102.1,531.7 L102.7,537.8 L103.4,543.6 L104.0,549.1 L104.7,554.3 L105.4,559.2 L106.0,563.9 L106.7,568.4 L107.3,572.6 L108.0,576.6 L108.7,580.5 L109.3,584.1 L110.0,587.6 L110.6,591.0 L111.3,594.2 L111.9,597.3 L112.6,600.3 L113.3,603.2 L113.9,605.9 L114.6,608.6 L115.2,611.2 L115.9,613.7 L116.6,616.1 L117.2,618.5 L117.9,620.8 L118.5,623.0 L119.2,625.2 L119.9,627.3 L120.5,629.4 L121.2,631.4 L121.8,633.4 L122.5,635.4 L123.1,637.3 L123.8,639.1 L124.5,641.0 L125.1,642.8 L125.8,644.6 L126.4,646.3 L127.1,648.1 L127.8,649.8 L128.4,651.5 L129.1,653.1 L129.7,654.8 L130.4,656.4 L133.0,662.8 L135.7,669.0 L138.3,674.9 L140.9,680.7 L143.6,686.3 L146.2,691.7 L148.8,696.9 L151.5,702.1 L154.1,707.0 L156.7,711.9 L159.4,716.6 L162.0,721.1 L164.6,725.6 L167.3,729.9 L169.9,734.2 L172.5,738.3 L175.2,742.3 L177.8,746.2 L180.4,750.0 L183.1,753.7 L185.7,757.4 L188.3,760.9 L191.0,764.3 L193.6,767.7 L196.3,771.0 L198.9,774.1 L201.5,777.2 L204.2,780.3 L206.8,783.2 L209.4,786.1 L214.7,791.6 L220.0,796.9 L225.2,801.9 L230.5,806.6 L235.8,811.2 L241.0,815.5 L246.3,819.5 L251.6,823.4 L256.8,827.1 L262.1,830.6 L267.4,834.0 L272.7,837.2 L277.9,840.2 L283.2,843.2 L288.5,846.1 L293.7,848.9 L299.0,851.6 L304.3,854.2 L309.5,856.7 L314.8,859.2 L320.1,861.6 L325.3,863.8 L330.6,866.0 L335.9,868.1 L341.1,870.1 L346.4,872.0 L351.7,873.8 L357.0,875.4 L362.2,877.0 L367.5,878.5 L372.8,879.9 L378.0,881.2 L383.3,882.5 L388.6,883.6 L393.8,884.7 L399.1,885.7 L404.4,886.7 L409.6,887.6 L414.9,888.4 L420.2,889.2 L425.5,890.0 L430.7,890.7 L436.0,891.4 L441.3,892.0 L446.5,892.6 L451.8,893.2 L457.1,893.8 L462.3,894.3 L467.6,894.8 L472.9,895.2 L478.1,895.7 L483.4,896.1 L488.7,896.5 L494.0,896.8 L499.2,897.2 L504.5,897.5 L509.8,897.9 L515.0,898.2 L520.3,898.5 L525.6,898.8 L530.8,899.0 L536.1,899.3 L541.4,899.6 L546.6,899.8 L551.9,900.1 L557.2,900.3 L562.4,900.5 L567.7,900.8 L573.0,901.0 L578.3,901.2 L583.5,901.4 L588.8,901.5 L594.1,901.7 L599.3,901.9 L604.6,902.0"/>
<path d="M85.2,518.0 L85.3,518.8 L85.5,521.3 L85.6,523.7 L85.7,526.1 L85.9,528.4 L86.0,530.8 L86.1,533.1 L86.3,535.3 L86.4,537.5 L86.5,539.7 L86.7,541.9 L86.8,544.1 L86.9,546.2 L87.1,548.3 L87.2,550.3 L87.3,552.4 L87.4,554.4 L87.6,556.4 L87.7,558.4 L87.8,560.3 L88.0,562.2 L88.1,564.1 L88.2,566.0 L88.4,567.9 L88.5,569.7 L88.6,571.5 L88.8,573.3 L88.9,575.1 L89.0,576.9 L89.2,578.6 L89.3,580.4 L89.4,582.1 L89.6,583.8 L89.7,585.4 L89.8,587.1 L90.0,588.7 L90.1,590.4 L90.2,592.0 L90.3,593.6 L90.5,595.1 L90.6,596.7 L90.7,598.3 L90.9,599.8 L91.0,601.3 L91.1,602.8 L91.3,604.3 L91.4,605.8 L91.5,607.3 L91.7,608.7 L91.8,610.2 L91.9,611.6 L92.1,613.0 L92.2,614.4 L92.3,615.8 L92.5,617.2 L92.6,618.6 L92.7,620.0 L92.8,621.3 L93.0,622.7 L93.1,624.0 L93.2,625.3 L93.4,626.6 L93.5,627.9 L94.2,634.3 L94.8,640.3 L95.5,646.2 L96.1,651.7 L96.8,657.1 L97.5,662.2 L98.1,667.0 L98.8,671.7 L99.4,676.1 L100.1,680.3 L100.8,684.3 L101.4,688.1 L102.1,691.8 L102.7,695.2 L103.4,698.5 L104.0,701.6 L104.7,704.6 L105.4,707.4 L106.0,710.1 L106.7,712.6 L107.3,715.1 L108.0,717.4 L108.7,719.5 L109.3,721.6 L110.0,723.6 L110.6,725.5 L111.3,727.4 L111.9,729.1 L112.6,730.8 L113.3,732.5 L113.9,734.0 L114.6,735.6 L115.2,737.0 L115.9,738.5 L116.6,739.8 L117.2,741.2 L117.9,742.5 L118.5,743.8 L119.2,745.0 L119.9,746.2 L120.5,747.4 L121.2,748.6 L121.8,749.7 L122.5,750.8 L123.1,751.9 L123.8,753.0 L124.5,754.0 L125.1,755.0 L125.8,756.1 L126.4,757.1 L127.1,758.0 L127.8,759.0 L128.4,760.0 L129.1,760.9 L129.7,761.9 L130.4,762.8 L133.0,766.4 L135.7,769.9 L138.3,773.3 L140.9,776.6 L143.6,779.8 L146.2,782.9 L148.8,785.9 L151.5,788.8 L154.1,791.6 L156.7,794.4 L159.4,797.1 L162.0,799.7 L164.6,802.2 L167.3,804.7 L169.9,807.1 L172.5,809.4 L175.2,811.7 L177.8,814.0 L180.4,816.1 L183.1,818.2 L185.7,820.3 L188.3,822.3 L191.0,824.3 L193.6,826.2 L196.3,828.0 L198.9,829.9 L201.5,831.6 L204.2,833.3 L206.8,835.0 L209.4,836.7 L214.7,839.8 L220.0,842.8 L225.2,845.7 L230.5,848.4 L235.8,850.9 L241.0,853.4 L246.3,855.7 L251.6,857.9 L256.8,860.0 L262.1,862.0 L267.4,863.9 L272.7,865.8 L277.9,867.5 L283.2,869.2 L288.5,870.8 L293.7,872.4 L299.0,874.0 L304.3,875.5 L309.5,876.9 L314.8,878.3 L320.1,879.7 L325.3,881.0 L330.6,882.2 L335.9,883.4 L341.1,884.5 L346.4,885.6 L351.7,886.6 L357.0,887.6 L362.2,888.5 L367.5,889.3 L372.8,890.1 L378.0,890.9 L383.3,891.6 L388.6,892.2 L393.8,892.8 L399.1,893.4 L404.4,894.0 L409.6,894.5 L414.9,895.0 L420.2,895.4 L425.5,895.9 L430.7,896.3 L436.0,896.6 L441.3,897.0 L446.5,897.4 L451.8,897.7 L457.1,898.0 L462.3,898.3 L467.6,898.6 L472.9,898.8 L478.1,899.1 L483.4,899.3 L488.7,899.5 L494.0,899.8 L499.2,900.0 L504.5,900.1 L509.8,900.3 L515.0,900.5 L520.3,900.7 L525.6,900.8 L530.8,901.0 L536.1,901.2 L541.4,901.3 L546.6,901.4 L551.9,901.6 L557.2,901.7 L562.4,901.9 L567.7,902.0 L573.0,902.1 L578.3,902.2 L583.5,902.3 L588.8,902.4 L594.1,902.5 L599.3,902.6 L604.6,902.7"/>
<path d="M77.7,530.0 L77.8,534.6 L78.0,539.1 L78.1,543.4 L78.2,547.7 L78.4,551.8 L78.5,555.8 L78.6,559.7 L78.8,563.5 L78.9,567.2 L79.0,570.8 L79.1,574.4 L79.3,577.8 L79.4,581.2 L79.5,584.5 L79.7,587.7 L79.8,590.8 L79.9,593.9 L80.1,596.9 L80.2,599.8 L80.3,602.7 L80.5,605.5 L80.6,608.2 L80.7,610.9 L80.9,613.5 L81.0,616.1 L81.1,618.6 L81.3,621.1 L81.4,623.5 L81.5,625.9 L81.7,628.2 L81.8,630.5 L81.9,632.8 L82.0,635.0 L82.2,637.1 L82.3,639.2 L82.4,641.3 L82.6,643.4 L82.7,645.4 L82.8,647.3 L83.0,649.3 L83.1,651.2 L83.2,653.0 L83.4,654.9 L83.5,656.7 L83.6,658.5 L83.8,660.2 L83.9,661.9 L84.0,663.6 L84.2,665.3 L84.3,666.9 L84.4,668.5 L84.5,670.1 L84.7,671.7 L84.8,673.2 L84.9,674.7 L85.1,676.2 L85.2,677.7 L85.3,679.2 L85.5,680.6 L85.6,682.0 L85.7,683.4 L85.9,684.8 L86.0,686.1 L86.1,687.4 L86.3,688.8 L86.4,690.1 L86.5,691.3 L86.7,692.6 L86.8,693.9 L86.9,695.1 L87.1,696.3 L87.2,697.5 L87.3,698.7 L87.4,699.9 L87.6,701.1 L87.7,702.2 L87.8,703.3 L88.0,704.5 L88.1,705.6 L88.2,706.7 L88.4,707.8 L88.5,708.8 L88.6,709.9 L88.8,710.9 L88.9,712.0 L89.0,713.0 L89.2,714.0 L89.3,715.0 L89.4,716.0 L89.6,717.0 L89.7,718.0 L89.8,719.0 L90.0,719.9 L90.1,720.9 L90.2,721.8 L90.3,722.7 L90.5,723.7 L90.6,724.6 L90.7,725.5 L90.9,726.4 L91.0,727.3 L91.1,728.2 L91.3,729.0 L91.4,729.9 L91.5,730.7 L91.7,731.6 L91.8,732.4 L91.9,733.3 L92.1,734.1 L92.2,734.9 L92.3,735.7 L92.5,736.6 L92.6,737.4 L92.7,738.1 L92.8,738.9 L93.0,739.7 L93.1,740.5 L93.2,741.3 L93.4,742.0 L93.5,742.8 L94.2,746.5 L94.8,750.0 L95.5,753.4 L96.1,756.7 L96.8,759.8 L97.5,762.8 L98.1,765.6 L98.8,768.3 L99.4,770.9 L100.1,773.3 L100.8,775.7 L101.4,777.9 L102.1,780.0 L102.7,782.1 L103.4,784.0 L104.0,785.8 L104.7,787.5 L105.4,789.2 L106.0,790.7 L106.7,792.2 L107.3,793.6 L108.0,795.0 L108.7,796.2 L109.3,797.4 L110.0,798.6 L110.6,799.7 L111.3,800.8 L111.9,801.8 L112.6,802.8 L113.3,803.8 L113.9,804.7 L114.6,805.6 L115.2,806.4 L115.9,807.3 L116.6,808.1 L117.2,808.9 L117.9,809.6 L118.5,810.4 L119.2,811.1 L119.9,811.8 L120.5,812.5 L121.2,813.2 L121.8,813.8 L122.5,814.5 L123.1,815.1 L123.8,815.7 L124.5,816.3 L125.1,816.9 L125.8,817.5 L126.4,818.1 L127.1,818.7 L127.8,819.3 L128.4,819.8 L129.1,820.4 L129.7,820.9 L130.4,821.5 L133.0,823.6 L135.7,825.6 L138.3,827.6 L140.9,829.5 L143.6,831.4 L146.2,833.2 L148.8,834.9 L151.5,836.6 L154.1,838.3 L156.7,839.9 L159.4,841.5 L162.0,843.0 L164.6,844.5 L167.3,845.9 L169.9,847.3 L172.5,848.7 L175.2,850.0 L177.8,851.3 L180.4,852.6 L183.1,853.8 L185.7,855.0 L188.3,856.2 L191.0,857.3 L193.6,858.4 L196.3,859.5 L198.9,860.6 L201.5,861.6 L204.2,862.6 L206.8,863.6 L209.4,864.6 L214.7,866.4 L220.0,868.1 L225.2,869.8 L230.5,871.4 L235.8,872.9 L241.0,874.3 L246.3,875.7 L251.6,877.0 L256.8,878.2 L262.1,879.4 L267.4,880.5 L272.7,881.5 L277.9,882.5 L283.2,883.5 L288.5,884.5 L293.7,885.4 L299.0,886.3 L304.3,887.2 L309.5,888.0 L314.8,888.8 L320.1,889.6 L325.3,890.4 L330.6,891.1 L335.9,891.8 L341.1,892.5 L346.4,893.1 L351.7,893.7 L357.0,894.2 L362.2,894.8 L367.5,895.3 L372.8,895.7 L378.0,896.2 L383.3,896.6 L388.6,897.0 L393.8,897.3 L399.1,897.7 L404.4,898.0 L409.6,898.3 L414.9,898.6 L420.2,898.8 L425.5,899.1 L430.7,899.3 L436.0,899.5 L441.3,899.8 L446.5,900.0 L451.8,900.1 L457.1,900.3 L462.3,900.5 L467.6,900.7 L472.9,900.8 L478.1,901.0 L483.4,901.1 L488.7,901.2 L494.0,901.4 L499.2,901.5 L504.5,901.6 L509.8,901.7 L515.0,901.8 L520.3,901.9 L525.6,902.0 L530.8,902.1 L536.1,902.2 L541.4,902.3 L546.6,902.3 L551.9,902.4 L557.2,902.5 L562.4,902.6 L567.7,902.7 L573.0,902.7 L578.3,902.8 L583.5,902.9 L588.8,902.9 L594.1,903.0 L599.3,903.0 L604.6,903.1"/>
<path d="M77.7,679.5 L77.8,682.2 L78.0,684.9 L78.1,687.5 L78.2,690.0 L78.4,692.5 L78.5,694.9 L78.6,697.3 L78.8,699.5 L78.9,701.8 L79.0,703.9 L79.1,706.1 L79.3,708.1 L79.4,710.2 L79.5,712.1 L79.7,714.0 L79.8,715.9 L79.9,717.8 L80.1,719.6 L80.2,721.3 L80.3,723.0 L80.5,724.7 L80.6,726.4 L80.7,728.0 L80.9,729.6 L81.0,731.1 L81.1,732.6 L81.3,734.1 L81.4,735.6 L81.5,737.0 L81.7,738.4 L81.8,739.8 L81.9,741.1 L82.0,742.4 L82.2,743.7 L82.3,745.0 L82.4,746.2 L82.6,747.5 L82.7,748.7 L82.8,749.8 L83.0,751.0 L83.1,752.1 L83.2,753.3 L83.4,754.4 L83.5,755.5 L83.6,756.5 L83.8,757.6 L83.9,758.6 L84.0,759.6 L84.2,760.6 L84.3,761.6 L84.4,762.6 L84.5,763.5 L84.7,764.4 L84.8,765.4 L84.9,766.3 L85.1,767.2 L85.2,768.1 L85.3,768.9 L85.5,769.8 L85.6,770.6 L85.7,771.5 L85.9,772.3 L86.0,773.1 L86.1,773.9 L86.3,774.7 L86.4,775.5 L86.5,776.2 L86.7,777.0 L86.8,777.8 L86.9,778.5 L87.1,779.2 L87.2,780.0 L87.3,780.7 L87.4,781.4 L87.6,782.1 L87.7,782.8 L87.8,783.4 L88.0,784.1 L88.1,784.8 L88.2,785.4 L88.4,786.1 L88.5,786.7 L88.6,787.4 L88.8,788.0 L88.9,788.6 L89.0,789.2 L89.2,789.9 L89.3,790.5 L89.4,791.1 L89.6,791.7 L89.7,792.2 L89.8,792.8 L90.0,793.4 L90.1,794.0 L90.2,794.5 L90.3,795.1 L90.5,795.6 L90.6,796.2 L90.7,796.7 L90.9,797.3 L91.0,797.8 L91.1,798.3 L91.3,798.9 L91.4,799.4 L91.5,799.9 L91.7,800.4 L91.8,800.9 L91.9,801.4 L92.1,801.9 L92.2,802.4 L92.3,802.9 L92.5,803.4 L92.6,803.9 L92.7,804.3 L92.8,804.8 L93.0,805.3 L93.1,805.7 L93.2,806.2 L93.4,806.7 L93.5,807.1 L94.2,809.3 L94.8,811.5 L95.5,813.5 L96.1,815.4 L96.8,817.3 L97.5,819.1 L98.1,820.8 L98.8,822.4 L99.4,824.0 L100.1,825.4 L100.8,826.8 L101.4,828.2 L102.1,829.5 L102.7,830.7 L103.4,831.8 L104.0,832.9 L104.7,834.0 L105.4,834.9 L106.0,835.9 L106.7,836.8 L107.3,837.6 L108.0,838.4 L108.7,839.2 L109.3,839.9 L110.0,840.6 L110.6,841.3 L111.3,841.9 L111.9,842.5 L112.6,843.1 L113.3,843.7 L113.9,844.3 L114.6,844.8 L115.2,845.3 L115.9,845.8 L116.6,846.3 L117.2,846.8 L117.9,847.2 L118.5,847.7 L119.2,848.1 L119.9,848.5 L120.5,848.9 L121.2,849.3 L121.8,849.7 L122.5,850.1 L123.1,850.5 L123.8,850.9 L124.5,851.2 L125.1,851.6 L125.8,852.0 L126.4,852.3 L127.1,852.7 L127.8,853.0 L128.4,853.3 L129.1,853.7 L129.7,854.0 L130.4,854.3 L133.0,855.6 L135.7,856.8 L138.3,858.0 L140.9,859.2 L143.6,860.3 L146.2,861.3 L148.8,862.4 L151.5,863.4 L154.1,864.4 L156.7,865.4 L159.4,866.3 L162.0,867.2 L164.6,868.1 L167.3,869.0 L169.9,869.8 L172.5,870.6 L175.2,871.4 L177.8,872.2 L180.4,873.0 L183.1,873.7 L185.7,874.4 L188.3,875.1 L191.0,875.8 L193.6,876.5 L196.3,877.2 L198.9,877.8 L201.5,878.4 L204.2,879.0 L206.8,879.6 L209.4,880.2 L214.7,881.3 L220.0,882.3 L225.2,883.3 L230.5,884.3 L235.8,885.2 L241.0,886.0 L246.3,886.8 L251.6,887.6 L256.8,888.4 L262.1,889.1 L267.4,889.7 L272.7,890.4 L277.9,891.0 L283.2,891.6 L288.5,892.1 L293.7,892.7 L299.0,893.2 L304.3,893.7 L309.5,894.3 L314.8,894.7 L320.1,895.2 L325.3,895.7 L330.6,896.1 L335.9,896.5 L341.1,896.9 L346.4,897.3 L351.7,897.6 L357.0,898.0 L362.2,898.3 L367.5,898.6 L372.8,898.9 L378.0,899.1 L383.3,899.4 L388.6,899.6 L393.8,899.8 L399.1,900.0 L404.4,900.2 L409.6,900.4 L414.9,900.6 L420.2,900.7 L425.5,900.9 L430.7,901.0 L436.0,901.2 L441.3,901.3 L446.5,901.4 L451.8,901.5 L457.1,901.6 L462.3,901.7 L467.6,901.8 L472.9,901.9 L478.1,902.0 L483.4,902.1 L488.7,902.2 L494.0,902.3 L499.2,902.3 L504.5,902.4 L509.8,902.5 L515.0,902.5 L520.3,902.6 L525.6,902.6 L530.8,902.7 L536.1,902.7 L541.4,902.8 L546.6,902.8 L551.9,902.9 L557.2,902.9 L562.4,903.0 L567.7,903.0 L573.0,903.1 L578.3,903.1 L583.5,903.2 L588.8,903.2 L594.1,903.2 L599.3,903.3 L604.6,903.3"/>
<path d="M77.7,766.6 L77.8,768.3 L78.0,769.9 L78.1,771.5 L78.2,773.1 L78.4,774.6 L78.5,776.1 L78.6,777.5 L78.8,778.9 L78.9,780.3 L79.0,781.6 L79.1,782.9 L79.3,784.1 L79.4,785.4 L79.5,786.6 L79.7,787.8 L79.8,788.9 L79.9,790.0 L80.1,791.1 L80.2,792.2 L80.3,793.3 L80.5,794.3 L80.6,795.3 L80.7,796.3 L80.9,797.2 L81.0,798.2 L81.1,799.1 L81.3,800.0 L81.4,800.9 L81.5,801.8 L81.7,802.6 L81.8,803.5 L81.9,804.3 L82.0,805.1 L82.2,805.9 L82.3,806.7 L82.4,807.4 L82.6,808.2 L82.7,808.9 L82.8,809.6 L83.0,810.3 L83.1,811.0 L83.2,811.7 L83.4,812.4 L83.5,813.1 L83.6,813.7 L83.8,814.4 L83.9,815.0 L84.0,815.6 L84.2,816.2 L84.3,816.8 L84.4,817.4 L84.5,818.0 L84.7,818.6 L84.8,819.1 L84.9,819.7 L85.1,820.2 L85.2,820.8 L85.3,821.3 L85.5,821.8 L85.6,822.3 L85.7,822.9 L85.9,823.4 L86.0,823.9 L86.1,824.3 L86.3,824.8 L86.4,825.3 L86.5,825.8 L86.7,826.2 L86.8,826.7 L86.9,827.2 L87.1,827.6 L87.2,828.0 L87.3,828.5 L87.4,828.9 L87.6,829.3 L87.7,829.8 L87.8,830.2 L88.0,830.6 L88.1,831.0 L88.2,831.4 L88.4,831.8 L88.5,832.2 L88.6,832.6 L88.8,833.0 L88.9,833.3 L89.0,833.7 L89.2,834.1 L89.3,834.5 L89.4,834.8 L89.6,835.2 L89.7,835.5 L89.8,835.9 L90.0,836.3 L90.1,836.6 L90.2,836.9 L90.3,837.3 L90.5,837.6 L90.6,838.0 L90.7,838.3 L90.9,838.6 L91.0,838.9 L91.1,839.3 L91.3,839.6 L91.4,839.9 L91.5,840.2 L91.7,840.5 L91.8,840.8 L91.9,841.1 L92.1,841.5 L92.2,841.8 L92.3,842.1 L92.5,842.3 L92.6,842.6 L92.7,842.9 L92.8,843.2 L93.0,843.5 L93.1,843.8 L93.2,844.1 L93.4,844.4 L93.5,844.6 L94.2,846.0 L94.8,847.3 L95.5,848.5 L96.1,849.7 L96.8,850.9 L97.5,852.0 L98.1,853.0 L98.8,854.0 L99.4,854.9 L100.1,855.8 L100.8,856.7 L101.4,857.5 L102.1,858.3 L102.7,859.0 L103.4,859.7 L104.0,860.4 L104.7,861.0 L105.4,861.6 L106.0,862.2 L106.7,862.8 L107.3,863.3 L108.0,863.8 L108.7,864.2 L109.3,864.7 L110.0,865.1 L110.6,865.5 L111.3,865.9 L111.9,866.3 L112.6,866.6 L113.3,867.0 L113.9,867.3 L114.6,867.7 L115.2,868.0 L115.9,868.3 L116.6,868.6 L117.2,868.9 L117.9,869.1 L118.5,869.4 L119.2,869.7 L119.9,869.9 L120.5,870.2 L121.2,870.4 L121.8,870.7 L122.5,870.9 L123.1,871.2 L123.8,871.4 L124.5,871.6 L125.1,871.8 L125.8,872.0 L126.4,872.3 L127.1,872.5 L127.8,872.7 L128.4,872.9 L129.1,873.1 L129.7,873.3 L130.4,873.5 L133.0,874.3 L135.7,875.0 L138.3,875.7 L140.9,876.4 L143.6,877.1 L146.2,877.8 L148.8,878.4 L151.5,879.0 L154.1,879.7 L156.7,880.2 L159.4,880.8 L162.0,881.4 L164.6,881.9 L167.3,882.4 L169.9,883.0 L172.5,883.5 L175.2,883.9 L177.8,884.4 L180.4,884.9 L183.1,885.3 L185.7,885.8 L188.3,886.2 L191.0,886.6 L193.6,887.0 L196.3,887.4 L198.9,887.8 L201.5,888.2 L204.2,888.6 L206.8,888.9 L209.4,889.3 L214.7,890.0 L220.0,890.6 L225.2,891.2 L230.5,891.8 L235.8,892.3 L241.0,892.9 L246.3,893.4 L251.6,893.8 L256.8,894.3 L262.1,894.7 L267.4,895.1 L272.7,895.5 L277.9,895.9 L283.2,896.2 L288.5,896.6 L293.7,896.9 L299.0,897.3 L304.3,897.6 L309.5,897.9 L314.8,898.2 L320.1,898.5 L325.3,898.8 L330.6,899.0 L335.9,899.3 L341.1,899.5 L346.4,899.7 L351.7,900.0 L357.0,900.2 L362.2,900.4 L367.5,900.5 L372.8,900.7 L378.0,900.9 L383.3,901.0 L388.6,901.2 L393.8,901.3 L399.1,901.4 L404.4,901.5 L409.6,901.7 L414.9,901.8 L420.2,901.9 L425.5,901.9 L430.7,902.0 L436.0,902.1 L441.3,902.2 L446.5,902.3 L451.8,902.3 L457.1,902.4 L462.3,902.5 L467.6,902.5 L472.9,902.6 L478.1,902.6 L483.4,902.7 L488.7,902.7 L494.0,902.8 L499.2,902.8 L504.5,902.9 L509.8,902.9 L515.0,902.9 L520.3,903.0 L525.6,903.0 L530.8,903.0 L536.1,903.1 L541.4,903.1 L546.6,903.1 L551.9,903.2 L557.2,903.2 L562.4,903.2 L567.7,903.3 L573.0,903.3 L578.3,903.3 L583.5,903.3 L588.8,903.3 L594.1,903.4 L599.3,903.4 L604.6,903.4"/>
<path d="M77.7,837.3 L77.8,838.1 L78.0,838.9 L78.1,839.7 L78.2,840.4 L78.4,841.1 L78.5,841.8 L78.6,842.5 L78.8,843.2 L78.9,843.8 L79.0,844.4 L79.1,845.1 L79.3,845.7 L79.4,846.3 L79.5,846.8 L79.7,847.4 L79.8,847.9 L79.9,848.5 L80.1,849.0 L80.2,849.5 L80.3,850.0 L80.5,850.5 L80.6,851.0 L80.7,851.4 L80.9,851.9 L81.0,852.3 L81.1,852.8 L81.3,853.2 L81.4,853.6 L81.5,854.0 L81.7,854.5 L81.8,854.9 L81.9,855.2 L82.0,855.6 L82.2,856.0 L82.3,856.4 L82.4,856.7 L82.6,857.1 L82.7,857.4 L82.8,857.8 L83.0,858.1 L83.1,858.4 L83.2,858.8 L83.4,859.1 L83.5,859.4 L83.6,859.7 L83.8,860.0 L83.9,860.3 L84.0,860.6 L84.2,860.9 L84.3,861.2 L84.4,861.5 L84.5,861.8 L84.7,862.0 L84.8,862.3 L84.9,862.6 L85.1,862.8 L85.2,863.1 L85.3,863.3 L85.5,863.6 L85.6,863.8 L85.7,864.1 L85.9,864.3 L86.0,864.5 L86.1,864.8 L86.3,865.0 L86.4,865.2 L86.5,865.5 L86.7,865.7 L86.8,865.9 L86.9,866.1 L87.1,866.3 L87.2,866.5 L87.3,866.7 L87.4,866.9 L87.6,867.1 L87.7,867.3 L87.8,867.5 L88.0,867.7 L88.1,867.9 L88.2,868.1 L88.4,868.3 L88.5,868.5 L88.6,868.7 L88.8,868.9 L88.9,869.0 L89.0,869.2 L89.2,869.4 L89.3,869.6 L89.4,869.8 L89.6,869.9 L89.7,870.1 L89.8,870.3 L90.0,870.4 L90.1,870.6 L90.2,870.8 L90.3,870.9 L90.5,871.1 L90.6,871.2 L90.7,871.4 L90.9,871.6 L91.0,871.7 L91.1,871.9 L91.3,872.0 L91.4,872.2 L91.5,872.3 L91.7,872.5 L91.8,872.6 L91.9,872.8 L92.1,872.9 L92.2,873.0 L92.3,873.2 L92.5,873.3 L92.6,873.5 L92.7,873.6 L92.8,873.7 L93.0,873.9 L93.1,874.0 L93.2,874.2 L93.4,874.3 L93.5,874.4 L94.2,875.1 L94.8,875.7 L95.5,876.3 L96.1,876.8 L96.8,877.4 L97.5,877.9 L98.1,878.4 L98.8,878.9 L99.4,879.3 L100.1,879.7 L100.8,880.1 L101.4,880.5 L102.1,880.9 L102.7,881.3 L103.4,881.6 L104.0,881.9 L104.7,882.2 L105.4,882.5 L106.0,882.8 L106.7,883.0 L107.3,883.3 L108.0,883.5 L108.7,883.7 L109.3,883.9 L110.0,884.1 L110.6,884.3 L111.3,884.5 L111.9,884.7 L112.6,884.9 L113.3,885.0 L113.9,885.2 L114.6,885.4 L115.2,885.5 L115.9,885.7 L116.6,885.8 L117.2,885.9 L117.9,886.1 L118.5,886.2 L119.2,886.3 L119.9,886.4 L120.5,886.6 L121.2,886.7 L121.8,886.8 L122.5,886.9 L123.1,887.0 L123.8,887.1 L124.5,887.2 L125.1,887.3 L125.8,887.4 L126.4,887.5 L127.1,887.6 L127.8,887.7 L128.4,887.8 L129.1,887.9 L129.7,888.0 L130.4,888.1 L133.0,888.5 L135.7,888.9 L138.3,889.2 L140.9,889.5 L143.6,889.9 L146.2,890.2 L148.8,890.5 L151.5,890.8 L154.1,891.1 L156.7,891.3 L159.4,891.6 L162.0,891.9 L164.6,892.1 L167.3,892.4 L169.9,892.6 L172.5,892.9 L175.2,893.1 L177.8,893.3 L180.4,893.5 L183.1,893.8 L185.7,894.0 L188.3,894.2 L191.0,894.4 L193.6,894.6 L196.3,894.8 L198.9,894.9 L201.5,895.1 L204.2,895.3 L206.8,895.5 L209.4,895.6 L214.7,896.0 L220.0,896.3 L225.2,896.6 L230.5,896.8 L235.8,897.1 L241.0,897.3 L246.3,897.6 L251.6,897.8 L256.8,898.0 L262.1,898.2 L267.4,898.4 L272.7,898.6 L277.9,898.8 L283.2,898.9 L288.5,899.1 L293.7,899.3 L299.0,899.4 L304.3,899.6 L309.5,899.7 L314.8,899.9 L320.1,900.0 L325.3,900.1 L330.6,900.3 L335.9,900.4 L341.1,900.5 L346.4,900.6 L351.7,900.7 L357.0,900.8 L362.2,900.9 L367.5,901.0 L372.8,901.1 L378.0,901.1 L383.3,901.2 L388.6,901.3 L393.8,901.3 L399.1,901.4 L404.4,901.5 L409.6,901.5 L414.9,901.6 L420.2,901.6 L425.5,901.7 L430.7,901.7 L436.0,901.8 L441.3,901.8 L446.5,901.9 L451.8,901.9 L457.1,902.0 L462.3,902.0 L467.6,902.0 L472.9,902.1 L478.1,902.1 L483.4,902.1 L488.7,902.2 L494.0,902.2 L499.2,902.2 L504.5,902.3 L509.8,902.3 L515.0,902.3 L520.3,902.3 L525.6,902.4 L530.8,902.4 L536.1,902.4 L541.4,902.4 L546.6,902.5 L551.9,902.5 L557.2,902.5 L562.4,902.5 L567.7,902.5 L573.0,902.6 L578.3,902.6 L583.5,902.6 L588.8,902.6 L594.1,902.6 L599.3,902.7 L604.6,902.7"/>
<path d="M77.7,865.1 L77.8,865.6 L78.0,866.0 L78.1,866.4 L78.2,866.8 L78.4,867.2 L78.5,867.6 L78.6,868.0 L78.8,868.4 L78.9,868.7 L79.0,869.1 L79.1,869.4 L79.3,869.8 L79.4,870.1 L79.5,870.4 L79.7,870.7 L79.8,871.0 L79.9,871.3 L80.1,871.6 L80.2,871.9 L80.3,872.2 L80.5,872.4 L80.6,872.7 L80.7,873.0 L80.9,873.2 L81.0,873.5 L81.1,873.7 L81.3,874.0 L81.4,874.2 L81.5,874.4 L81.7,874.6 L81.8,874.9 L81.9,875.1 L82.0,875.3 L82.2,875.5 L82.3,875.7 L82.4,875.9 L82.6,876.1 L82.7,876.3 L82.8,876.5 L83.0,876.7 L83.1,876.9 L83.2,877.0 L83.4,877.2 L83.5,877.4 L83.6,877.6 L83.8,877.7 L83.9,877.9 L84.0,878.1 L84.2,878.2 L84.3,878.4 L84.4,878.5 L84.5,878.7 L84.7,878.8 L84.8,879.0 L84.9,879.1 L85.1,879.3 L85.2,879.4 L85.3,879.6 L85.5,879.7 L85.6,879.8 L85.7,880.0 L85.9,880.1 L86.0,880.2 L86.1,880.4 L86.3,880.5 L86.4,880.6 L86.5,880.7 L86.7,880.9 L86.8,881.0 L86.9,881.1 L87.1,881.2 L87.2,881.3 L87.3,881.5 L87.4,881.6 L87.6,881.7 L87.7,881.8 L87.8,881.9 L88.0,882.0 L88.1,882.1 L88.2,882.2 L88.4,882.3 L88.5,882.4 L88.6,882.5 L88.8,882.6 L88.9,882.7 L89.0,882.8 L89.2,882.9 L89.3,883.0 L89.4,883.1 L89.6,883.2 L89.7,883.3 L89.8,883.4 L90.0,883.5 L90.1,883.6 L90.2,883.7 L90.3,883.8 L90.5,883.9 L90.6,884.0 L90.7,884.1 L90.9,884.1 L91.0,884.2 L91.1,884.3 L91.3,884.4 L91.4,884.5 L91.5,884.6 L91.7,884.6 L91.8,884.7 L91.9,884.8 L92.1,884.9 L92.2,885.0 L92.3,885.0 L92.5,885.1 L92.6,885.2 L92.7,885.3 L92.8,885.4 L93.0,885.4 L93.1,885.5 L93.2,885.6 L93.4,885.7 L93.5,885.7 L94.2,886.1 L94.8,886.4 L95.5,886.8 L96.1,887.1 L96.8,887.4 L97.5,887.7 L98.1,887.9 L98.8,888.2 L99.4,888.4 L100.1,888.7 L100.8,888.9 L101.4,889.1 L102.1,889.3 L102.7,889.5 L103.4,889.7 L104.0,889.9 L104.7,890.1 L105.4,890.2 L106.0,890.4 L106.7,890.5 L107.3,890.6 L108.0,890.8 L108.7,890.9 L109.3,891.0 L110.0,891.1 L110.6,891.2 L111.3,891.3 L111.9,891.4 L112.6,891.5 L113.3,891.6 L113.9,891.7 L114.6,891.8 L115.2,891.9 L115.9,892.0 L116.6,892.0 L117.2,892.1 L117.9,892.2 L118.5,892.3 L119.2,892.3 L119.9,892.4 L120.5,892.5 L121.2,892.5 L121.8,892.6 L122.5,892.7 L123.1,892.7 L123.8,892.8 L124.5,892.8 L125.1,892.9 L125.8,893.0 L126.4,893.0 L127.1,893.1 L127.8,893.1 L128.4,893.2 L129.1,893.2 L129.7,893.3 L130.4,893.3 L133.0,893.5 L135.7,893.7 L138.3,893.9 L140.9,894.1 L143.6,894.3 L146.2,894.5 L148.8,894.6 L151.5,894.8 L154.1,895.0 L156.7,895.1 L159.4,895.3 L162.0,895.4 L164.6,895.6 L167.3,895.7 L169.9,895.8 L172.5,896.0 L175.2,896.1 L177.8,896.2 L180.4,896.3 L183.1,896.5 L185.7,896.6 L188.3,896.7 L191.0,896.8 L193.6,896.9 L196.3,897.0 L198.9,897.1 L201.5,897.2 L204.2,897.3 L206.8,897.4 L209.4,897.5 L214.7,897.7 L220.0,897.9 L225.2,898.0 L230.5,898.2 L235.8,898.3 L241.0,898.5 L246.3,898.6 L251.6,898.7 L256.8,898.8 L262.1,898.9 L267.4,899.0 L272.7,899.2 L277.9,899.2 L283.2,899.3 L288.5,899.4 L293.7,899.5 L299.0,899.6 L304.3,899.7 L309.5,899.8 L314.8,899.9 L320.1,899.9 L325.3,900.0 L330.6,900.1 L335.9,900.1 L341.1,900.2 L346.4,900.3 L351.7,900.3 L357.0,900.4 L362.2,900.4 L367.5,900.5 L372.8,900.5 L378.0,900.6 L383.3,900.6 L388.6,900.6 L393.8,900.7 L399.1,900.7 L404.4,900.7 L409.6,900.8 L414.9,900.8 L420.2,900.9 L425.5,900.9 L430.7,901.0 L436.0,901.0 L441.3,901.0 L446.5,901.1 L451.8,901.1 L457.1,901.1 L462.3,901.2 L467.6,901.2 L472.9,901.2 L478.1,901.3 L483.4,901.3 L488.7,901.3 L494.0,901.4 L499.2,901.4 L504.5,901.4 L509.8,901.4 L515.0,901.5 L520.3,901.5 L525.6,901.5 L530.8,901.5 L536.1,901.6 L541.4,901.6 L546.6,901.6 L551.9,901.6 L557.2,901.7 L562.4,901.7 L567.7,901.7 L573.0,901.7 L578.3,901.8 L583.5,901.8 L588.8,901.8 L594.1,901.8 L599.3,901.9 L604.6,901.9"/>
<path d="M77.7,882.7 L77.8,882.9 L78.0,883.2 L78.1,883.4 L78.2,883.6 L78.4,883.8 L78.5,884.0 L78.6,884.1 L78.8,884.3 L78.9,884.5 L79.0,884.7 L79.1,884.8 L79.3,885.0 L79.4,885.2 L79.5,885.3 L79.7,885.5 L79.8,885.6 L79.9,885.8 L80.1,885.9 L80.2,886.0 L80.3,886.2 L80.5,886.3 L80.6,886.4 L80.7,886.6 L80.9,886.7 L81.0,886.8 L81.1,886.9 L81.3,887.1 L81.4,887.2 L81.5,887.3 L81.7,887.4 L81.8,887.5 L81.9,887.6 L82.0,887.7 L82.2,887.8 L82.3,887.9 L82.4,888.0 L82.6,888.1 L82.7,888.2 L82.8,888.3 L83.0,888.4 L83.1,888.5 L83.2,888.6 L83.4,888.7 L83.5,888.8 L83.6,888.8 L83.8,888.9 L83.9,889.0 L84.0,889.1 L84.2,889.2 L84.3,889.2 L84.4,889.3 L84.5,889.4 L84.7,889.5 L84.8,889.5 L84.9,889.6 L85.1,889.7 L85.2,889.8 L85.3,889.8 L85.5,889.9 L85.6,890.0 L85.7,890.0 L85.9,890.1 L86.0,890.2 L86.1,890.2 L86.3,890.3 L86.4,890.3 L86.5,890.4 L86.7,890.5 L86.8,890.5 L86.9,890.6 L87.1,890.6 L87.2,890.7 L87.3,890.8 L87.4,890.8 L87.6,890.9 L87.7,890.9 L87.8,891.0 L88.0,891.0 L88.1,891.1 L88.2,891.1 L88.4,891.2 L88.5,891.2 L88.6,891.3 L88.8,891.3 L88.9,891.4 L89.0,891.4 L89.2,891.5 L89.3,891.5 L89.4,891.6 L89.6,891.6 L89.7,891.7 L89.8,891.7 L90.0,891.8 L90.1,891.8 L90.2,891.9 L90.3,891.9 L90.5,891.9 L90.6,892.0 L90.7,892.0 L90.9,892.1 L91.0,892.1 L91.1,892.2 L91.3,892.2 L91.4,892.2 L91.5,892.3 L91.7,892.3 L91.8,892.4 L91.9,892.4 L92.1,892.4 L92.2,892.5 L92.3,892.5 L92.5,892.6 L92.6,892.6 L92.7,892.6 L92.8,892.7 L93.0,892.7 L93.1,892.7 L93.2,892.8 L93.4,892.8 L93.5,892.9 L94.2,893.0 L94.8,893.2 L95.5,893.4 L96.1,893.5 L96.8,893.7 L97.5,893.8 L98.1,893.9 L98.8,894.1 L99.4,894.2 L100.1,894.3 L100.8,894.4 L101.4,894.5 L102.1,894.6 L102.7,894.7 L103.4,894.8 L104.0,894.9 L104.7,895.0 L105.4,895.1 L106.0,895.1 L106.7,895.2 L107.3,895.3 L108.0,895.3 L108.7,895.4 L109.3,895.5 L110.0,895.5 L110.6,895.6 L111.3,895.6 L111.9,895.7 L112.6,895.7 L113.3,895.8 L113.9,895.8 L114.6,895.8 L115.2,895.9 L115.9,895.9 L116.6,896.0 L117.2,896.0 L117.9,896.0 L118.5,896.1 L119.2,896.1 L119.9,896.1 L120.5,896.2 L121.2,896.2 L121.8,896.2 L122.5,896.3 L123.1,896.3 L123.8,896.3 L124.5,896.4 L125.1,896.4 L125.8,896.4 L126.4,896.4 L127.1,896.5 L127.8,896.5 L128.4,896.5 L129.1,896.6 L129.7,896.6 L130.4,896.6 L133.0,896.7 L135.7,896.8 L138.3,896.9 L140.9,897.0 L143.6,897.1 L146.2,897.2 L148.8,897.2 L151.5,897.3 L154.1,897.4 L156.7,897.5 L159.4,897.6 L162.0,897.6 L164.6,897.7 L167.3,897.8 L169.9,897.8 L172.5,897.9 L175.2,898.0 L177.8,898.0 L180.4,898.1 L183.1,898.1 L185.7,898.2 L188.3,898.3 L191.0,898.3 L193.6,898.4 L196.3,898.4 L198.9,898.5 L201.5,898.5 L204.2,898.6 L206.8,898.6 L209.4,898.7 L214.7,898.7 L220.0,898.8 L225.2,898.9 L230.5,899.0 L235.8,899.1 L241.0,899.1 L246.3,899.2 L251.6,899.2 L256.8,899.3 L262.1,899.4 L267.4,899.4 L272.7,899.5 L277.9,899.5 L283.2,899.6 L288.5,899.6 L293.7,899.6 L299.0,899.7 L304.3,899.7 L309.5,899.8 L314.8,899.8 L320.1,899.9 L325.3,899.9 L330.6,899.9 L335.9,900.0 L341.1,900.0 L346.4,900.0 L351.7,900.0 L357.0,900.1 L362.2,900.1 L367.5,900.1 L372.8,900.1 L378.0,900.2 L383.3,900.2 L388.6,900.2 L393.8,900.2 L399.1,900.2 L404.4,900.2 L409.6,900.3 L414.9,900.3 L420.2,900.3 L425.5,900.4 L430.7,900.4 L436.0,900.4 L441.3,900.5 L446.5,900.5 L451.8,900.5 L457.1,900.6 L462.3,900.6 L467.6,900.6 L472.9,900.7 L478.1,900.7 L483.4,900.7 L488.7,900.8 L494.0,900.8 L499.2,900.8 L504.5,900.8 L509.8,900.9 L515.0,900.9 L520.3,900.9 L525.6,901.0 L530.8,901.0 L536.1,901.0 L541.4,901.0 L546.6,901.1 L551.9,901.1 L557.2,901.1 L562.4,901.1 L567.7,901.2 L573.0,901.2 L578.3,901.2 L583.5,901.3 L588.8,901.3 L594.1,901.3 L599.3,901.3 L604.6,901.4"/>
<path d="M77.7,892.6 L77.8,892.7 L78.0,892.8 L78.1,892.9 L78.2,893.0 L78.4,893.0 L78.5,893.1 L78.6,893.2 L78.8,893.3 L78.9,893.3 L79.0,893.4 L79.1,893.5 L79.3,893.5 L79.4,893.6 L79.5,893.7 L79.7,893.7 L79.8,893.8 L79.9,893.8 L80.1,893.9 L80.2,894.0 L80.3,894.0 L80.5,894.1 L80.6,894.1 L80.7,894.2 L80.9,894.2 L81.0,894.3 L81.1,894.3 L81.3,894.4 L81.4,894.4 L81.5,894.5 L81.7,894.5 L81.8,894.5 L81.9,894.6 L82.0,894.6 L82.2,894.7 L82.3,894.7 L82.4,894.7 L82.6,894.8 L82.7,894.8 L82.8,894.9 L83.0,894.9 L83.1,894.9 L83.2,895.0 L83.4,895.0 L83.5,895.0 L83.6,895.1 L83.8,895.1 L83.9,895.1 L84.0,895.2 L84.2,895.2 L84.3,895.2 L84.4,895.3 L84.5,895.3 L84.7,895.3 L84.8,895.4 L84.9,895.4 L85.1,895.4 L85.2,895.4 L85.3,895.5 L85.5,895.5 L85.6,895.5 L85.7,895.5 L85.9,895.6 L86.0,895.6 L86.1,895.6 L86.3,895.7 L86.4,895.7 L86.5,895.7 L86.7,895.7 L86.8,895.7 L86.9,895.8 L87.1,895.8 L87.2,895.8 L87.3,895.8 L87.4,895.9 L87.6,895.9 L87.7,895.9 L87.8,895.9 L88.0,896.0 L88.1,896.0 L88.2,896.0 L88.4,896.0 L88.5,896.0 L88.6,896.1 L88.8,896.1 L88.9,896.1 L89.0,896.1 L89.2,896.1 L89.3,896.2 L89.4,896.2 L89.6,896.2 L89.7,896.2 L89.8,896.2 L90.0,896.2 L90.1,896.3 L90.2,896.3 L90.3,896.3 L90.5,896.3 L90.6,896.3 L90.7,896.4 L90.9,896.4 L91.0,896.4 L91.1,896.4 L91.3,896.4 L91.4,896.4 L91.5,896.5 L91.7,896.5 L91.8,896.5 L91.9,896.5 L92.1,896.5 L92.2,896.5 L92.3,896.5 L92.5,896.6 L92.6,896.6 L92.7,896.6 L92.8,896.6 L93.0,896.6 L93.1,896.6 L93.2,896.7 L93.4,896.7 L93.5,896.7 L94.2,896.8 L94.8,896.8 L95.5,896.9 L96.1,896.9 L96.8,897.0 L97.5,897.1 L98.1,897.1 L98.8,897.2 L99.4,897.2 L100.1,897.3 L100.8,897.3 L101.4,897.3 L102.1,897.4 L102.7,897.4 L103.4,897.5 L104.0,897.5 L104.7,897.5 L105.4,897.6 L106.0,897.6 L106.7,897.6 L107.3,897.6 L108.0,897.7 L108.7,897.7 L109.3,897.7 L110.0,897.7 L110.6,897.8 L111.3,897.8 L111.9,897.8 L112.6,897.8 L113.3,897.8 L113.9,897.9 L114.6,897.9 L115.2,897.9 L115.9,897.9 L116.6,897.9 L117.2,897.9 L117.9,898.0 L118.5,898.0 L119.2,898.0 L119.9,898.0 L120.5,898.0 L121.2,898.0 L121.8,898.0 L122.5,898.0 L123.1,898.1 L123.8,898.1 L124.5,898.1 L125.1,898.1 L125.8,898.1 L126.4,898.1 L127.1,898.1 L127.8,898.1 L128.4,898.1 L129.1,898.2 L129.7,898.2 L130.4,898.2 L133.0,898.2 L135.7,898.3 L138.3,898.3 L140.9,898.3 L143.6,898.4 L146.2,898.4 L148.8,898.4 L151.5,898.5 L154.1,898.5 L156.7,898.5 L159.4,898.6 L162.0,898.6 L164.6,898.6 L167.3,898.6 L169.9,898.7 L172.5,898.7 L175.2,898.7 L177.8,898.7 L180.4,898.8 L183.1,898.8 L185.7,898.8 L188.3,898.8 L191.0,898.9 L193.6,898.9 L196.3,898.9 L198.9,898.9 L201.5,898.9 L204.2,899.0 L206.8,899.0 L209.4,899.0 L214.7,899.0 L220.0,899.1 L225.2,899.1 L230.5,899.1 L235.8,899.2 L241.0,899.2 L246.3,899.2 L251.6,899.2 L256.8,899.3 L262.1,899.3 L267.4,899.3 L272.7,899.3 L277.9,899.3 L283.2,899.4 L288.5,899.4 L293.7,899.4 L299.0,899.4 L304.3,899.4 L309.5,899.4 L314.8,899.5 L320.1,899.5 L325.3,899.5 L330.6,899.5 L335.9,899.5 L341.1,899.5 L346.4,899.5 L351.7,899.6 L357.0,899.6 L362.2,899.6 L367.5,899.6 L372.8,899.6 L378.0,899.6 L383.3,899.6 L388.6,899.6 L393.8,899.6 L399.1,899.6 L404.4,899.6 L409.6,899.7 L414.9,899.7 L420.2,899.7 L425.5,899.8 L430.7,899.8 L436.0,899.8 L441.3,899.9 L446.5,899.9 L451.8,899.9 L457.1,900.0 L462.3,900.0 L467.6,900.0 L472.9,900.1 L478.1,900.1 L483.4,900.1 L488.7,900.1 L494.0,900.2 L499.2,900.2 L504.5,900.2 L509.8,900.3 L515.0,900.3 L520.3,900.3 L525.6,900.4 L530.8,900.4 L536.1,900.4 L541.4,900.5 L546.6,900.5 L551.9,900.5 L557.2,900.5 L562.4,900.6 L567.7,900.6 L573.0,900.6 L578.3,900.7 L583.5,900.7 L588.8,900.7 L594.1,900.8 L599.3,900.8 L604.6,900.8"/>
<path d="M77.7,897.9 L77.8,897.9 L78.0,897.9 L78.1,897.9 L78.2,898.0 L78.4,898.0 L78.5,898.0 L78.6,898.0 L78.8,898.0 L78.9,898.0 L79.0,898.0 L79.1,898.0 L79.3,898.0 L79.4,898.1 L79.5,898.1 L79.7,898.1 L79.8,898.1 L79.9,898.1 L80.1,898.1 L80.2,898.1 L80.3,898.1 L80.5,898.1 L80.6,898.1 L80.7,898.1 L80.9,898.1 L81.0,898.2 L81.1,898.2 L81.3,898.2 L81.4,898.2 L81.5,898.2 L81.7,898.2 L81.8,898.2 L81.9,898.2 L82.0,898.2 L82.2,898.2 L82.3,898.2 L82.4,898.2 L82.6,898.2 L82.7,898.2 L82.8,898.2 L83.0,898.2 L83.1,898.3 L83.2,898.3 L83.4,898.3 L83.5,898.3 L83.6,898.3 L83.8,898.3 L83.9,898.3 L84.0,898.3 L84.2,898.3 L84.3,898.3 L84.4,898.3 L84.5,898.3 L84.7,898.3 L84.8,898.3 L84.9,898.3 L85.1,898.3 L85.2,898.3 L85.3,898.3 L85.5,898.3 L85.6,898.3 L85.7,898.3 L85.9,898.3 L86.0,898.4 L86.1,898.4 L86.3,898.4 L86.4,898.4 L86.5,898.4 L86.7,898.4 L86.8,898.4 L86.9,898.4 L87.1,898.4 L87.2,898.4 L87.3,898.4 L87.4,898.4 L87.6,898.4 L87.7,898.4 L87.8,898.4 L88.0,898.4 L88.1,898.4 L88.2,898.4 L88.4,898.4 L88.5,898.4 L88.6,898.4 L88.8,898.4 L88.9,898.4 L89.0,898.4 L89.2,898.4 L89.3,898.4 L89.4,898.4 L89.6,898.4 L89.7,898.4 L89.8,898.4 L90.0,898.4 L90.1,898.5 L90.2,898.5 L90.3,898.5 L90.5,898.5 L90.6,898.5 L90.7,898.5 L90.9,898.5 L91.0,898.5 L91.1,898.5 L91.3,898.5 L91.4,898.5 L91.5,898.5 L91.7,898.5 L91.8,898.5 L91.9,898.5 L92.1,898.5 L92.2,898.5 L92.3,898.5 L92.5,898.5 L92.6,898.5 L92.7,898.5 L92.8,898.5 L93.0,898.5 L93.1,898.5 L93.2,898.5 L93.4,898.5 L93.5,898.5 L94.2,898.5 L94.8,898.5 L95.5,898.5 L96.1,898.6 L96.8,898.6 L97.5,898.6 L98.1,898.6 L98.8,898.6 L99.4,898.6 L100.1,898.6 L100.8,898.6 L101.4,898.6 L102.1,898.6 L102.7,898.6 L103.4,898.6 L104.0,898.6 L104.7,898.6 L105.4,898.6 L106.0,898.7 L106.7,898.7 L107.3,898.7 L108.0,898.7 L108.7,898.7 L109.3,898.7 L110.0,898.7 L110.6,898.7 L111.3,898.7 L111.9,898.7 L112.6,898.7 L113.3,898.7 L113.9,898.7 L114.6,898.7 L115.2,898.7 L115.9,898.7 L116.6,898.7 L117.2,898.7 L117.9,898.7 L118.5,898.7 L119.2,898.7 L119.9,898.7 L120.5,898.7 L121.2,898.7 L121.8,898.7 L122.5,898.7 L123.1,898.7 L123.8,898.7 L124.5,898.7 L125.1,898.7 L125.8,898.7 L126.4,898.7 L127.1,898.7 L127.8,898.7 L128.4,898.7 L129.1,898.7 L129.7,898.7 L130.4,898.7 L133.0,898.7 L135.7,898.8 L138.3,898.8 L140.9,898.8 L143.6,898.8 L146.2,898.8 L148.8,898.8 L151.5,898.8 L154.1,898.8 L156.7,898.8 L159.4,898.8 L162.0,898.8 L164.6,898.8 L167.3,898.8 L169.9,898.8 L172.5,898.8 L175.2,898.8 L177.8,898.8 L180.4,898.8 L183.1,898.8 L185.7,898.8 L188.3,898.8 L191.0,898.8 L193.6,898.8 L196.3,898.8 L198.9,898.8 L201.5,898.9 L204.2,898.9 L206.8,898.9 L209.4,898.9 L214.7,898.9 L220.0,898.9 L225.2,898.9 L230.5,898.9 L235.8,898.9 L241.0,898.9 L246.3,898.9 L251.6,898.9 L256.8,898.9 L262.1,898.9 L267.4,898.9 L272.7,898.9 L277.9,898.9 L283.2,898.9 L288.5,898.9 L293.7,898.9 L299.0,898.9 L304.3,898.9 L309.5,898.9 L314.8,898.9 L320.1,898.9 L325.3,898.9 L330.6,898.9 L335.9,898.9 L341.1,898.9 L346.4,898.9 L351.7,898.9 L357.0,898.9 L362.2,898.9 L367.5,898.9 L372.8,899.0 L378.0,899.0 L383.3,899.0 L388.6,899.0 L393.8,899.0 L399.1,899.0 L404.4,899.0 L409.6,899.0 L414.9,899.0 L420.2,899.0 L425.5,899.1 L430.7,899.1 L436.0,899.2 L441.3,899.2 L446.5,899.2 L451.8,899.3 L457.1,899.3 L462.3,899.3 L467.6,899.4 L472.9,899.4 L478.1,899.4 L483.4,899.5 L488.7,899.5 L494.0,899.5 L499.2,899.6 L504.5,899.6 L509.8,899.6 L515.0,899.7 L520.3,899.7 L525.6,899.7 L530.8,899.8 L536.1,899.8 L541.4,899.8 L546.6,899.9 L551.9,899.9 L557.2,900.0 L562.4,900.0 L567.7,900.0 L573.0,900.1 L578.3,900.1 L583.5,900.1 L588.8,900.2 L594.1,900.2 L599.3,900.2 L604.6,900.3"/>
<path d="M77.7,900.6 L77.8,900.7 L78.0,900.7 L78.1,900.7 L78.2,900.7 L78.4,900.7 L78.5,900.7 L78.6,900.7 L78.8,900.8 L78.9,900.8 L79.0,900.8 L79.1,900.8 L79.3,900.8 L79.4,900.8 L79.5,900.8 L79.7,900.9 L79.8,900.9 L79.9,900.9 L80.1,900.9 L80.2,900.9 L80.3,900.9 L80.5,900.9 L80.6,900.9 L80.7,900.9 L80.9,901.0 L81.0,901.0 L81.1,901.0 L81.3,901.0 L81.4,901.0 L81.5,901.0 L81.7,901.0 L81.8,901.0 L81.9,901.0 L82.0,901.0 L82.2,901.0 L82.3,901.1 L82.4,901.1 L82.6,901.1 L82.7,901.1 L82.8,901.1 L83.0,901.1 L83.1,901.1 L83.2,901.1 L83.4,901.1 L83.5,901.1 L83.6,901.1 L83.8,901.1 L83.9,901.1 L84.0,901.1 L84.2,901.1 L84.3,901.2 L84.4,901.2 L84.5,901.2 L84.7,901.2 L84.8,901.2 L84.9,901.2 L85.1,901.2 L85.2,901.2 L85.3,901.2 L85.5,901.2 L85.6,901.2 L85.7,901.2 L85.9,901.2 L86.0,901.2 L86.1,901.2 L86.3,901.2 L86.4,901.2 L86.5,901.2 L86.7,901.3 L86.8,901.3 L86.9,901.3 L87.1,901.3 L87.2,901.3 L87.3,901.3 L87.4,901.3 L87.6,901.3 L87.7,901.3 L87.8,901.3 L88.0,901.3 L88.1,901.3 L88.2,901.3 L88.4,901.3 L88.5,901.3 L88.6,901.3 L88.8,901.3 L88.9,901.3 L89.0,901.3 L89.2,901.3 L89.3,901.3 L89.4,901.3 L89.6,901.3 L89.7,901.4 L89.8,901.4 L90.0,901.4 L90.1,901.4 L90.2,901.4 L90.3,901.4 L90.5,901.4 L90.6,901.4 L90.7,901.4 L90.9,901.4 L91.0,901.4 L91.1,901.4 L91.3,901.4 L91.4,901.4 L91.5,901.4 L91.7,901.4 L91.8,901.4 L91.9,901.4 L92.1,901.4 L92.2,901.4 L92.3,901.4 L92.5,901.4 L92.6,901.4 L92.7,901.4 L92.8,901.4 L93.0,901.4 L93.1,901.4 L93.2,901.4 L93.4,901.4 L93.5,901.4 L94.2,901.5 L94.8,901.5 L95.5,901.5 L96.1,901.5 L96.8,901.5 L97.5,901.5 L98.1,901.5 L98.8,901.5 L99.4,901.6 L100.1,901.6 L100.8,901.6 L101.4,901.6 L102.1,901.6 L102.7,901.6 L103.4,901.6 L104.0,901.6 L104.7,901.6 L105.4,901.6 L106.0,901.6 L106.7,901.6 L107.3,901.6 L108.0,901.6 L108.7,901.6 L109.3,901.7 L110.0,901.7 L110.6,901.7 L111.3,901.7 L111.9,901.7 L112.6,901.7 L113.3,901.7 L113.9,901.7 L114.6,901.7 L115.2,901.7 L115.9,901.7 L116.6,901.7 L117.2,901.7 L117.9,901.7 L118.5,901.7 L119.2,901.7 L119.9,901.7 L120.5,901.7 L121.2,901.7 L121.8,901.7 L122.5,901.7 L123.1,901.7 L123.8,901.7 L124.5,901.7 L125.1,901.7 L125.8,901.7 L126.4,901.7 L127.1,901.7 L127.8,901.7 L128.4,901.7 L129.1,901.7 L129.7,901.7 L130.4,901.7 L133.0,901.8 L135.7,901.8 L138.3,901.8 L140.9,901.8 L143.6,901.8 L146.2,901.8 L148.8,901.8 L151.5,901.8 L154.1,901.8 L156.7,901.8 L159.4,901.8 L162.0,901.8 L164.6,901.8 L167.3,901.8 L169.9,901.8 L172.5,901.8 L175.2,901.9 L177.8,901.9 L180.4,901.9 L183.1,901.9 L185.7,901.9 L188.3,901.9 L191.0,901.9 L193.6,901.9 L196.3,901.9 L198.9,901.9 L201.5,901.9 L204.2,901.9 L206.8,901.9 L209.4,901.9 L214.7,901.9 L220.0,901.9 L225.2,901.9 L230.5,901.9 L235.8,901.9 L241.0,901.9 L246.3,902.0 L251.6,902.0 L256.8,902.0 L262.1,902.0 L267.4,902.0 L272.7,902.0 L277.9,902.0 L283.2,902.0 L288.5,902.0 L293.7,902.0 L299.0,902.0 L304.3,902.0 L309.5,902.0 L314.8,902.0 L320.1,902.0 L325.3,902.0 L330.6,902.0 L335.9,902.0 L341.1,902.0 L346.4,902.0 L351.7,902.0 L357.0,902.0 L362.2,902.0 L367.5,902.0 L372.8,902.0 L378.0,902.0 L383.3,902.0 L388.6,902.0 L393.8,902.0 L399.1,902.0 L404.4,902.0 L409.6,902.0 L414.9,902.1 L420.2,902.1 L425.5,902.1 L430.7,902.1 L436.0,902.1 L441.3,902.1 L446.5,902.1 L451.8,902.1 L457.1,902.2 L462.3,902.2 L467.6,902.2 L472.9,902.2 L478.1,902.2 L483.4,902.2 L488.7,902.2 L494.0,902.2 L499.2,902.3 L504.5,902.3 L509.8,902.3 L515.0,902.3 L520.3,902.3 L525.6,902.3 L530.8,902.3 L536.1,902.3 L541.4,902.3 L546.6,902.4 L551.9,902.4 L557.2,902.4 L562.4,902.4 L567.7,902.4 L573.0,902.4 L578.3,902.4 L583.5,902.4 L588.8,902.5 L594.1,902.5 L599.3,902.5 L604.6,902.5"/>
<path d="M97.5,902.8 L407.0,902.8 L604.6,903.0"/>
<path d="M106.7,901.3 L407.0,901.3 L604.6,901.9"/>
<path d="M106.7,900.1 L407.0,900.1 L604.6,901.1"/>
<path d="M209.4,899.0 L407.0,899.0 L604.6,900.3"/>
</g>
<path class="ax" d="M77.7,911.8000000000001 V518.0 M604.6,518.0 V911.8000000000001"/>
<path d="M69.3,518.0 H605.4" stroke="#000" stroke-width="1.7" fill="none"/>
<path d="M69.3,903.6 H604.6" stroke="#000" stroke-width="1.3" fill="none"/>
<text x="77.4" y="936.0" font-size="25" text-anchor="middle">200</text>
<line class="tk" x1="143.6" x2="143.6" y1="903.6" y2="908.1"/>
<line class="tk" x1="209.4" x2="209.4" y1="903.6" y2="911.8000000000001"/>
<text x="209.1" y="936.0" font-size="25" text-anchor="middle">300</text>
<line class="tk" x1="275.3" x2="275.3" y1="903.6" y2="908.1"/>
<line class="tk" x1="341.1" x2="341.1" y1="903.6" y2="911.8000000000001"/>
<text x="340.8" y="936.0" font-size="25" text-anchor="middle">400</text>
<line class="tk" x1="407.0" x2="407.0" y1="903.6" y2="908.1"/>
<line class="tk" x1="472.9" x2="472.9" y1="903.6" y2="911.8000000000001"/>
<text x="472.6" y="936.0" font-size="25" text-anchor="middle">500</text>
<line class="tk" x1="538.7" x2="538.7" y1="903.6" y2="908.1"/>
<text x="604.3" y="936.0" font-size="25" text-anchor="middle">600</text>
<line class="tk" x1="69.3" x2="77.7" y1="903.6" y2="903.6"/>
<text x="64.3" y="910.1" font-size="25" text-anchor="end">0</text>
<line class="tk" x1="73.3" x2="77.7" y1="807.2" y2="807.2"/>
<line class="tk" x1="69.3" x2="77.7" y1="710.8" y2="710.8"/>
<text x="65.2" y="717.3" font-size="25" text-anchor="end">1</text>
<path d="M51.5,714.85 H57 V717.80 H51.5 Z M60,714.85 H66 V717.80 H60 Z" fill="#fff"/>
<line class="tk" x1="73.3" x2="77.7" y1="614.4" y2="614.4"/>
<line class="tk" x1="69.3" x2="77.7" y1="518.0" y2="518.0"/>
<text x="64.3" y="524.5" font-size="25" text-anchor="end">2</text>
<text class="ti" x="242.2" y="977.5" font-size="26.5" textLength="198.3" lengthAdjust="spacingAndGlyphs">Wavelength (<tspan font-style="italic">nm</tspan>)</text>
<text transform="translate(18.9,804.0) rotate(-90)" class="ti" font-size="26.5" textLength="169.8" lengthAdjust="spacingAndGlyphs">Optical density</text>
<text x="187.0" y="560.7" font-size="44">B</text>
<rect x="342.2" y="12.5" width="261.6" height="192.9" fill="#fff"/>
<path class="iax" d="M342.2,11.5 V205.4 H604.6"/>
<line class="iax" x1="360.6" x2="360.6" y1="205.4" y2="209.70000000000002"/>
<text class="ser" x="360.6" y="224.3" font-size="15.4" text-anchor="middle">0</text>
<line class="iax" x1="398.1" x2="398.1" y1="205.4" y2="209.70000000000002"/>
<text class="ser" x="398.1" y="224.3" font-size="15.4" text-anchor="middle">10</text>
<line class="iax" x1="435.6" x2="435.6" y1="205.4" y2="209.70000000000002"/>
<text class="ser" x="435.6" y="224.3" font-size="15.4" text-anchor="middle">20</text>
<line class="iax" x1="473.2" x2="473.2" y1="205.4" y2="209.70000000000002"/>
<text class="ser" x="473.2" y="224.3" font-size="15.4" text-anchor="middle">30</text>
<line class="iax" x1="510.7" x2="510.7" y1="205.4" y2="209.70000000000002"/>
<text class="ser" x="510.7" y="224.3" font-size="15.4" text-anchor="middle">40</text>
<line class="iax" x1="548.2" x2="548.2" y1="205.4" y2="209.70000000000002"/>
<text class="ser" x="548.2" y="224.3" font-size="15.4" text-anchor="middle">50</text>
<line class="iax" x1="585.7" x2="585.7" y1="205.4" y2="209.70000000000002"/>
<text class="ser" x="585.7" y="224.3" font-size="15.4" text-anchor="middle">60</text>
<line class="iax" x1="379.4" x2="379.4" y1="205.4" y2="207.8"/>
<line class="iax" x1="416.9" x2="416.9" y1="205.4" y2="207.8"/>
<line class="iax" x1="454.4" x2="454.4" y1="205.4" y2="207.8"/>
<line class="iax" x1="491.9" x2="491.9" y1="205.4" y2="207.8"/>
<line class="iax" x1="529.4" x2="529.4" y1="205.4" y2="207.8"/>
<line class="iax" x1="567.0" x2="567.0" y1="205.4" y2="207.8"/>
<line class="iax" x1="338.0" x2="342.2" y1="190.0" y2="190.0"/>
<text class="ser" x="335.2" y="194.7" font-size="15.4" text-anchor="end">0.0</text>
<line class="iax" x1="338.0" x2="342.2" y1="157.8" y2="157.8"/>
<text class="ser" x="335.2" y="162.5" font-size="15.4" text-anchor="end">0.2</text>
<line class="iax" x1="338.0" x2="342.2" y1="125.5" y2="125.5"/>
<text class="ser" x="335.2" y="130.2" font-size="15.4" text-anchor="end">0.4</text>
<line class="iax" x1="338.0" x2="342.2" y1="93.3" y2="93.3"/>
<text class="ser" x="335.2" y="98.0" font-size="15.4" text-anchor="end">0.6</text>
<line class="iax" x1="338.0" x2="342.2" y1="61.0" y2="61.0"/>
<text class="ser" x="335.2" y="65.7" font-size="15.4" text-anchor="end">0.8</text>
<line class="iax" x1="338.0" x2="342.2" y1="28.8" y2="28.8"/>
<text class="ser" x="335.2" y="33.5" font-size="15.4" text-anchor="end">1.0</text>
<line class="iax" x1="339.9" x2="342.2" y1="173.9" y2="173.9"/>
<line class="iax" x1="339.9" x2="342.2" y1="141.6" y2="141.6"/>
<line class="iax" x1="339.9" x2="342.2" y1="109.4" y2="109.4"/>
<line class="iax" x1="339.9" x2="342.2" y1="77.2" y2="77.2"/>
<line class="iax" x1="339.9" x2="342.2" y1="44.9" y2="44.9"/>
<line x1="361.3" y1="188.8" x2="578.4" y2="39.7" stroke="#000" stroke-width="1.8"/>
<circle class="pt" cx="362.1" cy="188.3" r="3.5"/>
<circle class="pt" cx="365.8" cy="185.7" r="3.5"/>
<circle class="pt" cx="369.9" cy="182.8" r="3.5"/>
<circle class="pt" cx="375" cy="179" r="3.5"/>
<circle class="pt" cx="386.6" cy="171.8" r="3.5"/>
<circle class="pt" cx="405.9" cy="159.7" r="3.5"/>
<circle class="pt" cx="435.8" cy="137.9" r="3.5"/>
<circle class="pt" cx="487.9" cy="102.5" r="3.5"/>
<circle class="pt" cx="578.4" cy="39.7" r="3.5"/>
<text transform="translate(305.2,203) rotate(-90)" class="sm" font-size="16" textLength="184.3" lengthAdjust="spacingAndGlyphs">Optical density @ 355nm</text>
<text class="sm" x="359.2" y="251.3" font-size="16.5" textLength="228.4" lengthAdjust="spacingAndGlyphs">Concentration of C<tspan font-size="10" dy="5.5">60</tspan><tspan dy="-5.5">(OH)</tspan><tspan font-size="8" dy="5.5">n</tspan><tspan dy="-5.5"> (</tspan><tspan font-style="italic">µM</tspan>)</text>
<text class="sm" x="488.3" y="145.6" font-size="16.5" textLength="86.5" lengthAdjust="spacingAndGlyphs">R<tspan font-size="9.5" dy="-7.3">2</tspan><tspan dy="7.3">=0.99996</tspan></text>
<rect x="342.2" y="519.0" width="261.6" height="193.0" fill="#fff"/>
<path class="iax" d="M342.2,518.0 V712.0 H604.6"/>
<line class="iax" x1="348.5" x2="348.5" y1="712.0" y2="716.3"/>
<text class="ser" x="348.5" y="730.9" font-size="15.4" text-anchor="middle">0.0</text>
<line class="iax" x1="419.7" x2="419.7" y1="712.0" y2="716.3"/>
<text class="ser" x="419.7" y="730.9" font-size="15.4" text-anchor="middle">0.5</text>
<line class="iax" x1="490.9" x2="490.9" y1="712.0" y2="716.3"/>
<text class="ser" x="490.9" y="730.9" font-size="15.4" text-anchor="middle">1.0</text>
<line class="iax" x1="562.1" x2="562.1" y1="712.0" y2="716.3"/>
<text class="ser" x="562.1" y="730.9" font-size="15.4" text-anchor="middle">1.5</text>
<line class="iax" x1="384.1" x2="384.1" y1="712.0" y2="714.4"/>
<line class="iax" x1="455.3" x2="455.3" y1="712.0" y2="714.4"/>
<line class="iax" x1="526.5" x2="526.5" y1="712.0" y2="714.4"/>
<line class="iax" x1="597.7" x2="597.7" y1="712.0" y2="714.4"/>
<line class="iax" x1="338.0" x2="342.2" y1="707.0" y2="707.0"/>
<text class="ser" x="335.2" y="711.7" font-size="15.4" text-anchor="end">0.0</text>
<line class="iax" x1="338.0" x2="342.2" y1="653.1" y2="653.1"/>
<text class="ser" x="335.2" y="657.9" font-size="15.4" text-anchor="end">0.1</text>
<line class="iax" x1="338.0" x2="342.2" y1="599.3" y2="599.3"/>
<text class="ser" x="335.2" y="604.0" font-size="15.4" text-anchor="end">0.2</text>
<line class="iax" x1="338.0" x2="342.2" y1="545.5" y2="545.5"/>
<text class="ser" x="335.2" y="550.2" font-size="15.4" text-anchor="end">0.3</text>
<line class="iax" x1="339.9" x2="342.2" y1="680.1" y2="680.1"/>
<line class="iax" x1="339.9" x2="342.2" y1="626.2" y2="626.2"/>
<line class="iax" x1="339.9" x2="342.2" y1="572.4" y2="572.4"/>
<line x1="349.3" y1="706.8" x2="595.6" y2="537.4" stroke="#000" stroke-width="1.8"/>
<circle class="pt" cx="349.6" cy="706.4" r="3.5"/>
<circle class="pt" cx="350.9" cy="705.6" r="3.5"/>
<circle class="pt" cx="354.9" cy="703.6" r="3.5"/>
<circle class="pt" cx="359.2" cy="699.6" r="3.5"/>
<circle class="pt" cx="365.8" cy="695.2" r="3.5"/>
<circle class="pt" cx="378.8" cy="686.5" r="3.5"/>
<circle class="pt" cx="398.1" cy="673.2" r="3.5"/>
<circle class="pt" cx="432.9" cy="650.0" r="3.5"/>
<circle class="pt" cx="491.9" cy="609.4" r="3.5"/>
<circle class="pt" cx="595.6" cy="537.4" r="3.5"/>
<text transform="translate(305.2,709.5) rotate(-90)" class="sm" font-size="16" textLength="184.3" lengthAdjust="spacingAndGlyphs">Optical density @ 355nm</text>
<text class="sm" x="355" y="757.7" font-size="16.5" textLength="236.8" lengthAdjust="spacingAndGlyphs">Concentration of CT006 (<tspan font-style="italic">mg/ml</tspan>)</text>
<text class="sm" x="488.3" y="652.2" font-size="16.5" textLength="86.5" lengthAdjust="spacingAndGlyphs">R<tspan font-size="9.5" dy="-7.3">2</tspan><tspan dy="7.3">=0.99992</tspan></text>
</svg></body></html>
